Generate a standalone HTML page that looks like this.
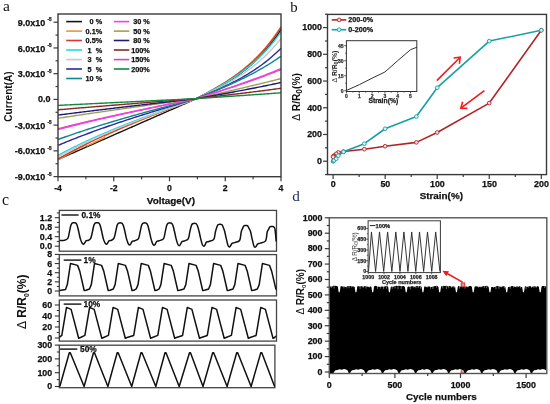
<!DOCTYPE html><html><head><meta charset="utf-8"><style>html,body{margin:0;padding:0;background:#fff;}svg{display:block;will-change:transform;}</style></head><body>
<svg width="550" height="404" viewBox="0 0 550 404">
<rect width="550" height="404" fill="#fff"/>
<path d="M58,159.5 L59.39,158.89 L60.79,158.27 L62.18,157.66 L63.58,157.04 L64.97,156.43 L66.36,155.81 L67.76,155.2 L69.15,154.58 L70.54,153.97 L71.94,153.36 L73.33,152.74 L74.73,152.13 L76.12,151.51 L77.51,150.9 L78.91,150.29 L80.3,149.67 L81.69,149.06 L83.09,148.44 L84.48,147.83 L85.88,147.22 L87.27,146.6 L88.66,145.99 L90.06,145.38 L91.45,144.76 L92.84,144.15 L94.24,143.54 L95.63,142.92 L97.02,142.31 L98.42,141.7 L99.81,141.08 L101.21,140.47 L102.6,139.86 L103.99,139.24 L105.39,138.63 L106.78,138.02 L108.17,137.41 L109.57,136.79 L110.96,136.18 L112.36,135.57 L113.75,134.95 L115.14,134.34 L116.54,133.73 L117.93,133.12 L119.33,132.5 L120.72,131.89 L122.11,131.28 L123.51,130.67 L124.9,130.05 L126.29,129.44 L127.69,128.83 L129.08,128.22 L130.47,127.6 L131.87,126.99 L133.26,126.38 L134.66,125.77 L136.05,125.15 L137.44,124.54 L138.84,123.93 L140.23,123.32 L141.62,122.71 L143.02,122.09 L144.41,121.48 L145.81,120.87 L147.2,120.26 L148.59,119.65 L149.99,119.03 L151.38,118.42 L152.78,117.81 L154.17,117.2 L155.56,116.59 L156.96,115.97 L158.35,115.36 L159.74,114.75 L161.14,114.14 L162.53,113.53 L163.92,112.91 L165.32,112.3 L166.71,111.69 L168.11,111.08 L169.5,110.47 L170.89,109.86 L172.29,109.24 L173.68,108.63 L175.08,108.02 L176.47,107.41 L177.86,106.8 L179.26,106.18 L180.65,105.57 L182.04,104.96 L183.44,104.35 L184.83,103.74 L186.22,103.13 L187.62,102.51 L189.01,101.9 L190.41,101.29 L191.8,100.68 L193.19,100.07 L194.59,99.46 L195.98,98.84 L197.38,98.19 L198.77,97.49 L200.16,96.8 L201.56,96.11 L202.95,95.41 L204.34,94.71 L205.74,94.01 L207.13,93.3 L208.53,92.59 L209.92,91.87 L211.31,91.15 L212.71,90.42 L214.1,89.68 L215.49,88.93 L216.89,88.18 L218.28,87.42 L219.68,86.64 L221.07,85.86 L222.46,85.06 L223.86,84.26 L225.25,83.43 L226.64,82.6 L228.04,81.75 L229.43,80.89 L230.82,80.01 L232.22,79.11 L233.61,78.2 L235.01,77.26 L236.4,76.31 L237.79,75.34 L239.19,74.35 L240.58,73.33 L241.97,72.29 L243.37,71.23 L244.76,70.15 L246.16,69.04 L247.55,67.9 L248.94,66.73 L250.34,65.54 L251.73,64.31 L253.12,63.06 L254.52,61.77 L255.91,60.45 L257.31,59.1 L258.7,57.71 L260.09,56.28 L261.49,54.82 L262.88,53.31 L264.27,51.77 L265.67,50.18 L267.06,48.55 L268.46,46.87 L269.85,45.15 L271.24,43.38 L272.64,41.56 L274.03,39.69 L275.43,37.76 L276.82,35.78 L278.21,33.75 L279.61,31.65 L281,29.5" fill="none" stroke="#151515" stroke-width="1.4" stroke-linejoin="round" />
<path d="M58,160 L59.39,159.19 L60.79,158.39 L62.18,157.6 L63.58,156.81 L64.97,156.03 L66.36,155.25 L67.76,154.48 L69.15,153.72 L70.54,152.96 L71.94,152.2 L73.33,151.46 L74.73,150.71 L76.12,149.97 L77.51,149.24 L78.91,148.51 L80.3,147.79 L81.69,147.07 L83.09,146.36 L84.48,145.65 L85.88,144.95 L87.27,145.85 L88.66,145.15 L90.06,144.46 L91.45,143.78 L92.84,143.1 L94.24,142.42 L95.63,141.75 L97.02,141.08 L98.42,140.41 L99.81,139.75 L101.21,139.09 L102.6,138.44 L103.99,137.79 L105.39,135.55 L106.78,134.91 L108.17,134.27 L109.57,133.63 L110.96,133 L112.36,132.38 L113.75,131.75 L115.14,131.13 L116.54,130.51 L117.93,129.9 L119.33,129.29 L120.72,128.68 L122.11,128.08 L123.51,127.47 L124.9,126.88 L126.29,126.28 L127.69,125.69 L129.08,125.09 L130.47,124.51 L131.87,123.92 L133.26,123.34 L134.66,122.76 L136.05,122.18 L137.44,121.6 L138.84,121.03 L140.23,120.46 L141.62,119.89 L143.02,119.32 L144.41,118.76 L145.81,118.19 L147.2,117.63 L148.59,117.07 L149.99,116.52 L151.38,115.96 L152.78,115.41 L154.17,114.86 L155.56,114.31 L156.96,113.76 L158.35,113.21 L159.74,112.66 L161.14,112.12 L162.53,111.58 L163.92,111.04 L165.32,110.49 L166.71,109.96 L168.11,109.42 L169.5,108.88 L170.89,108.34 L172.29,107.81 L173.68,107.28 L175.08,106.74 L176.47,106.21 L177.86,105.68 L179.26,105.15 L180.65,104.62 L182.04,104.09 L183.44,103.56 L184.83,103.03 L186.22,102.5 L187.62,101.97 L189.01,101.45 L190.41,100.92 L191.8,100.39 L193.19,99.86 L194.59,99.34 L195.98,98.81 L197.38,98.15 L198.77,97.39 L200.16,96.64 L201.56,95.88 L202.95,95.12 L204.34,94.36 L205.74,93.59 L207.13,92.82 L208.53,92.05 L209.92,91.27 L211.31,90.48 L212.71,89.69 L214.1,88.89 L215.49,88.08 L216.89,87.26 L218.28,86.44 L219.68,85.6 L221.07,84.76 L222.46,83.9 L223.86,83.03 L225.25,82.15 L226.64,81.25 L228.04,80.34 L229.43,79.42 L230.82,78.48 L232.22,77.52 L233.61,76.55 L235.01,75.56 L236.4,74.55 L237.79,73.52 L239.19,72.47 L240.58,71.4 L241.97,70.31 L243.37,69.19 L244.76,68.05 L246.16,66.89 L247.55,65.7 L248.94,64.48 L250.34,63.23 L251.73,61.96 L253.12,60.66 L254.52,59.32 L255.91,57.96 L257.31,56.56 L258.7,55.12 L260.09,53.66 L261.49,52.15 L262.88,50.61 L264.27,49.03 L265.67,47.4 L267.06,45.74 L268.46,44.03 L269.85,42.28 L271.24,40.49 L272.64,38.64 L274.03,36.75 L275.43,34.81 L276.82,32.81 L278.21,30.76 L279.61,28.66 L281,26.5" fill="none" stroke="#e8963e" stroke-width="1.4" stroke-linejoin="round" />
<path d="M58,159 L59.39,158.21 L60.79,157.42 L62.18,156.64 L63.58,155.86 L64.97,155.1 L66.36,154.33 L67.76,153.57 L69.15,152.82 L70.54,152.07 L71.94,151.33 L73.33,150.6 L74.73,149.86 L76.12,149.14 L77.51,148.42 L78.91,147.7 L80.3,146.99 L81.69,146.28 L83.09,145.58 L84.48,144.88 L85.88,144.19 L87.27,143.5 L88.66,142.82 L90.06,142.14 L91.45,141.47 L92.84,140.8 L94.24,140.13 L95.63,139.47 L97.02,138.81 L98.42,138.16 L99.81,137.51 L101.21,136.86 L102.6,136.22 L103.99,135.58 L105.39,134.95 L106.78,134.32 L108.17,133.69 L109.57,133.06 L110.96,132.44 L112.36,131.83 L113.75,131.21 L115.14,130.6 L116.54,129.99 L117.93,129.39 L119.33,128.79 L120.72,128.19 L122.11,127.6 L123.51,127 L124.9,126.41 L126.29,125.83 L127.69,125.24 L129.08,124.66 L130.47,124.08 L131.87,123.51 L133.26,122.93 L134.66,122.36 L136.05,121.79 L137.44,121.23 L138.84,120.66 L140.23,120.1 L141.62,119.54 L143.02,118.98 L144.41,118.43 L145.81,117.88 L147.2,117.32 L148.59,116.77 L149.99,116.23 L151.38,115.68 L152.78,115.13 L154.17,114.59 L155.56,114.05 L156.96,113.51 L158.35,112.97 L159.74,112.44 L161.14,111.9 L162.53,111.37 L163.92,110.83 L165.32,110.3 L166.71,109.77 L168.11,109.24 L169.5,108.71 L170.89,108.19 L172.29,107.66 L173.68,107.13 L175.08,106.61 L176.47,106.09 L177.86,105.56 L179.26,105.04 L180.65,104.52 L182.04,104 L183.44,103.48 L184.83,102.96 L186.22,102.44 L187.62,101.92 L189.01,101.4 L190.41,100.88 L191.8,100.36 L193.19,99.84 L194.59,99.33 L195.98,98.81 L197.38,98.15 L198.77,97.41 L200.16,96.66 L201.56,95.92 L202.95,95.17 L204.34,94.42 L205.74,93.66 L207.13,92.9 L208.53,92.14 L209.92,91.37 L211.31,90.59 L212.71,89.81 L214.1,89.02 L215.49,88.23 L216.89,87.42 L218.28,86.61 L219.68,85.78 L221.07,84.95 L222.46,84.1 L223.86,83.25 L225.25,82.38 L226.64,81.49 L228.04,80.6 L229.43,79.69 L230.82,78.76 L232.22,77.82 L233.61,76.86 L235.01,75.88 L236.4,74.88 L237.79,73.87 L239.19,72.83 L240.58,71.78 L241.97,70.7 L243.37,69.6 L244.76,68.47 L246.16,67.33 L247.55,66.15 L248.94,64.95 L250.34,63.72 L251.73,62.47 L253.12,61.18 L254.52,59.87 L255.91,58.52 L257.31,57.14 L258.7,55.73 L260.09,54.28 L261.49,52.79 L262.88,51.27 L264.27,49.71 L265.67,48.11 L267.06,46.47 L268.46,44.79 L269.85,43.06 L271.24,41.29 L272.64,39.47 L274.03,37.61 L275.43,35.69 L276.82,33.72 L278.21,31.7 L279.61,29.63 L281,27.5" fill="none" stroke="#d83a30" stroke-width="1.4" stroke-linejoin="round" />
<path d="M58,155.3 L59.39,154.56 L60.79,153.82 L62.18,153.08 L63.58,152.36 L64.97,151.63 L66.36,150.92 L67.76,150.21 L69.15,149.5 L70.54,148.8 L71.94,148.1 L73.33,147.41 L74.73,146.72 L76.12,146.04 L77.51,145.36 L78.91,144.69 L80.3,144.02 L81.69,143.36 L83.09,142.7 L84.48,142.05 L85.88,141.4 L87.27,140.75 L88.66,140.11 L90.06,139.47 L91.45,138.84 L92.84,138.21 L94.24,137.59 L95.63,136.97 L97.02,136.35 L98.42,135.73 L99.81,135.12 L101.21,134.52 L102.6,133.91 L103.99,133.32 L105.39,132.72 L106.78,132.13 L108.17,131.54 L109.57,130.95 L110.96,130.37 L112.36,129.79 L113.75,129.21 L115.14,128.64 L116.54,128.07 L117.93,127.5 L119.33,126.94 L120.72,126.38 L122.11,125.82 L123.51,125.26 L124.9,124.71 L126.29,124.16 L127.69,123.61 L129.08,123.07 L130.47,122.52 L131.87,121.98 L133.26,121.44 L134.66,120.91 L136.05,120.37 L137.44,119.84 L138.84,119.31 L140.23,118.79 L141.62,118.26 L143.02,117.74 L144.41,117.21 L145.81,116.69 L147.2,116.18 L148.59,115.66 L149.99,115.15 L151.38,114.63 L152.78,114.12 L154.17,113.61 L155.56,113.1 L156.96,112.6 L158.35,112.09 L159.74,111.59 L161.14,111.09 L162.53,110.58 L163.92,110.08 L165.32,109.58 L166.71,109.09 L168.11,108.59 L169.5,108.09 L170.89,107.6 L172.29,107.1 L173.68,106.61 L175.08,106.12 L176.47,105.63 L177.86,105.14 L179.26,104.65 L180.65,104.16 L182.04,103.67 L183.44,103.18 L184.83,102.69 L186.22,102.2 L187.62,101.71 L189.01,101.23 L190.41,100.74 L191.8,100.25 L193.19,99.77 L194.59,99.28 L195.98,98.79 L197.38,98.17 L198.77,97.45 L200.16,96.73 L201.56,96.01 L202.95,95.29 L204.34,94.57 L205.74,93.84 L207.13,93.11 L208.53,92.37 L209.92,91.63 L211.31,90.89 L212.71,90.13 L214.1,89.38 L215.49,88.61 L216.89,87.84 L218.28,87.06 L219.68,86.27 L221.07,85.47 L222.46,84.66 L223.86,83.84 L225.25,83.01 L226.64,82.17 L228.04,81.32 L229.43,80.45 L230.82,79.57 L232.22,78.67 L233.61,77.76 L235.01,76.84 L236.4,75.9 L237.79,74.94 L239.19,73.96 L240.58,72.96 L241.97,71.95 L243.37,70.91 L244.76,69.85 L246.16,68.77 L247.55,67.67 L248.94,66.55 L250.34,65.4 L251.73,64.22 L253.12,63.03 L254.52,61.8 L255.91,60.54 L257.31,59.26 L258.7,57.95 L260.09,56.6 L261.49,55.23 L262.88,53.82 L264.27,52.38 L265.67,50.9 L267.06,49.39 L268.46,47.83 L269.85,46.25 L271.24,44.62 L272.64,42.95 L274.03,41.24 L275.43,39.48 L276.82,37.68 L278.21,35.84 L279.61,33.94 L281,32" fill="none" stroke="#18dde8" stroke-width="1.4" stroke-linejoin="round" />
<path d="M58,157 L59.39,156.23 L60.79,155.47 L62.18,154.72 L63.58,153.97 L64.97,153.22 L66.36,152.49 L67.76,151.75 L69.15,151.03 L70.54,150.3 L71.94,149.59 L73.33,148.87 L74.73,148.17 L76.12,147.46 L77.51,146.77 L78.91,146.07 L80.3,145.39 L81.69,144.7 L83.09,144.03 L84.48,143.35 L85.88,142.68 L87.27,142.02 L88.66,141.36 L90.06,140.7 L91.45,140.05 L92.84,139.4 L94.24,138.76 L95.63,138.12 L97.02,137.48 L98.42,136.85 L99.81,136.22 L101.21,135.59 L102.6,134.97 L103.99,134.36 L105.39,133.74 L106.78,133.13 L108.17,132.53 L109.57,131.92 L110.96,131.32 L112.36,130.73 L113.75,130.13 L115.14,129.54 L116.54,128.96 L117.93,128.37 L119.33,127.79 L120.72,127.21 L122.11,126.64 L123.51,126.06 L124.9,125.49 L126.29,124.93 L127.69,124.36 L129.08,123.8 L130.47,123.24 L131.87,122.68 L133.26,122.13 L134.66,121.58 L136.05,121.03 L137.44,120.48 L138.84,119.93 L140.23,119.39 L141.62,118.85 L143.02,118.31 L144.41,117.77 L145.81,117.24 L147.2,116.7 L148.59,116.17 L149.99,115.64 L151.38,115.11 L152.78,114.59 L154.17,114.06 L155.56,113.54 L156.96,113.02 L158.35,112.5 L159.74,111.98 L161.14,111.46 L162.53,110.94 L163.92,110.43 L165.32,109.91 L166.71,109.4 L168.11,108.89 L169.5,108.38 L170.89,107.87 L172.29,107.36 L173.68,106.85 L175.08,106.34 L176.47,105.84 L177.86,105.33 L179.26,104.83 L180.65,104.32 L182.04,103.82 L183.44,103.32 L184.83,102.81 L186.22,102.31 L187.62,101.81 L189.01,101.31 L190.41,100.8 L191.8,100.3 L193.19,99.8 L194.59,99.3 L195.98,98.8 L197.38,98.21 L198.77,97.56 L200.16,96.91 L201.56,96.27 L202.95,95.61 L204.34,94.96 L205.74,94.3 L207.13,93.64 L208.53,92.98 L209.92,92.31 L211.31,91.64 L212.71,90.96 L214.1,90.28 L215.49,89.59 L216.89,88.89 L218.28,88.19 L219.68,87.47 L221.07,86.75 L222.46,86.02 L223.86,85.28 L225.25,84.54 L226.64,83.78 L228.04,83.01 L229.43,82.22 L230.82,81.43 L232.22,80.62 L233.61,79.8 L235.01,78.96 L236.4,78.11 L237.79,77.24 L239.19,76.36 L240.58,75.46 L241.97,74.55 L243.37,73.61 L244.76,72.66 L246.16,71.68 L247.55,70.69 L248.94,69.68 L250.34,68.64 L251.73,67.58 L253.12,66.5 L254.52,65.39 L255.91,64.26 L257.31,63.1 L258.7,61.91 L260.09,60.7 L261.49,59.46 L262.88,58.19 L264.27,56.89 L265.67,55.55 L267.06,54.19 L268.46,52.79 L269.85,51.36 L271.24,49.89 L272.64,48.38 L274.03,46.83 L275.43,45.25 L276.82,43.63 L278.21,41.96 L279.61,40.25 L281,38.5" fill="none" stroke="#c8c8c8" stroke-width="1.4" stroke-linejoin="round" />
<path d="M58,145.4 L59.39,144.81 L60.79,144.23 L62.18,143.65 L63.58,143.07 L64.97,142.5 L66.36,141.93 L67.76,141.36 L69.15,140.8 L70.54,140.24 L71.94,139.68 L73.33,139.13 L74.73,138.58 L76.12,138.03 L77.51,137.49 L78.91,136.95 L80.3,136.41 L81.69,135.88 L83.09,135.35 L84.48,134.82 L85.88,134.29 L87.27,133.77 L88.66,133.25 L90.06,132.73 L91.45,132.22 L92.84,131.71 L94.24,131.2 L95.63,130.7 L97.02,130.19 L98.42,129.69 L99.81,129.19 L101.21,128.7 L102.6,128.21 L103.99,127.72 L105.39,127.23 L106.78,126.74 L108.17,126.26 L109.57,125.78 L110.96,125.3 L112.36,124.82 L113.75,124.34 L115.14,123.87 L116.54,123.4 L117.93,122.93 L119.33,122.46 L120.72,122 L122.11,121.54 L123.51,121.08 L124.9,120.62 L126.29,120.16 L127.69,119.7 L129.08,119.25 L130.47,118.8 L131.87,118.35 L133.26,117.9 L134.66,117.45 L136.05,117 L137.44,116.56 L138.84,116.11 L140.23,115.67 L141.62,115.23 L143.02,114.79 L144.41,114.36 L145.81,113.92 L147.2,113.48 L148.59,113.05 L149.99,112.62 L151.38,112.19 L152.78,111.76 L154.17,111.33 L155.56,110.9 L156.96,110.47 L158.35,110.04 L159.74,109.62 L161.14,109.19 L162.53,108.77 L163.92,108.35 L165.32,107.92 L166.71,107.5 L168.11,107.08 L169.5,106.66 L170.89,106.24 L172.29,105.82 L173.68,105.4 L175.08,104.99 L176.47,104.57 L177.86,104.15 L179.26,103.74 L180.65,103.32 L182.04,102.91 L183.44,102.49 L184.83,102.08 L186.22,101.66 L187.62,101.25 L189.01,100.83 L190.41,100.42 L191.8,100.01 L193.19,99.59 L194.59,99.18 L195.98,98.77 L197.38,98.25 L198.77,97.67 L200.16,97.09 L201.56,96.51 L202.95,95.92 L204.34,95.34 L205.74,94.75 L207.13,94.16 L208.53,93.57 L209.92,92.97 L211.31,92.37 L212.71,91.77 L214.1,91.16 L215.49,90.55 L216.89,89.93 L218.28,89.31 L219.68,88.68 L221.07,88.04 L222.46,87.4 L223.86,86.75 L225.25,86.1 L226.64,85.43 L228.04,84.76 L229.43,84.08 L230.82,83.39 L232.22,82.69 L233.61,81.98 L235.01,81.26 L236.4,80.53 L237.79,79.79 L239.19,79.04 L240.58,78.27 L241.97,77.5 L243.37,76.7 L244.76,75.9 L246.16,75.08 L247.55,74.25 L248.94,73.4 L250.34,72.53 L251.73,71.65 L253.12,70.75 L254.52,69.84 L255.91,68.9 L257.31,67.95 L258.7,66.98 L260.09,65.99 L261.49,64.98 L262.88,63.95 L264.27,62.89 L265.67,61.82 L267.06,60.72 L268.46,59.59 L269.85,58.45 L271.24,57.27 L272.64,56.08 L274.03,54.85 L275.43,53.6 L276.82,52.32 L278.21,51.01 L279.61,49.67 L281,48.3" fill="none" stroke="#2a2aa0" stroke-width="1.4" stroke-linejoin="round" />
<path d="M58,139.5 L59.39,139 L60.79,138.5 L62.18,138 L63.58,137.5 L64.97,137.01 L66.36,136.52 L67.76,136.04 L69.15,135.55 L70.54,135.07 L71.94,134.59 L73.33,134.12 L74.73,133.64 L76.12,133.17 L77.51,132.7 L78.91,132.24 L80.3,131.77 L81.69,131.31 L83.09,130.85 L84.48,130.4 L85.88,129.94 L87.27,129.49 L88.66,129.04 L90.06,128.59 L91.45,128.15 L92.84,127.71 L94.24,127.27 L95.63,126.83 L97.02,126.39 L98.42,125.95 L99.81,125.52 L101.21,125.09 L102.6,124.66 L103.99,124.23 L105.39,123.81 L106.78,123.39 L108.17,122.96 L109.57,122.54 L110.96,122.13 L112.36,121.71 L113.75,121.29 L115.14,120.88 L116.54,120.47 L117.93,120.06 L119.33,119.65 L120.72,119.24 L122.11,118.84 L123.51,118.44 L124.9,118.03 L126.29,117.63 L127.69,117.23 L129.08,116.83 L130.47,116.44 L131.87,116.04 L133.26,115.65 L134.66,115.25 L136.05,114.86 L137.44,114.47 L138.84,114.08 L140.23,113.69 L141.62,113.3 L143.02,112.92 L144.41,112.53 L145.81,112.15 L147.2,111.76 L148.59,111.38 L149.99,111 L151.38,110.62 L152.78,110.24 L154.17,109.86 L155.56,109.48 L156.96,109.1 L158.35,108.73 L159.74,108.35 L161.14,107.98 L162.53,107.6 L163.92,107.23 L165.32,106.85 L166.71,106.48 L168.11,106.11 L169.5,105.74 L170.89,105.37 L172.29,105 L173.68,104.63 L175.08,104.26 L176.47,103.89 L177.86,103.52 L179.26,103.15 L180.65,102.78 L182.04,102.41 L183.44,102.05 L184.83,101.68 L186.22,101.31 L187.62,100.95 L189.01,100.58 L190.41,100.21 L191.8,99.85 L193.19,99.48 L194.59,99.11 L195.98,98.75 L197.38,98.26 L198.77,97.69 L200.16,97.13 L201.56,96.56 L202.95,95.99 L204.34,95.42 L205.74,94.85 L207.13,94.28 L208.53,93.71 L209.92,93.14 L211.31,92.56 L212.71,91.98 L214.1,91.4 L215.49,90.82 L216.89,90.23 L218.28,89.64 L219.68,89.05 L221.07,88.45 L222.46,87.85 L223.86,87.25 L225.25,86.64 L226.64,86.03 L228.04,85.41 L229.43,84.79 L230.82,84.16 L232.22,83.53 L233.61,82.89 L235.01,82.25 L236.4,81.6 L237.79,80.95 L239.19,80.29 L240.58,79.62 L241.97,78.94 L243.37,78.26 L244.76,77.57 L246.16,76.88 L247.55,76.17 L248.94,75.46 L250.34,74.74 L251.73,74.01 L253.12,73.27 L254.52,72.52 L255.91,71.77 L257.31,71 L258.7,70.22 L260.09,69.44 L261.49,68.64 L262.88,67.83 L264.27,67.01 L265.67,66.18 L267.06,65.34 L268.46,64.48 L269.85,63.62 L271.24,62.74 L272.64,61.84 L274.03,60.94 L275.43,60.02 L276.82,59.09 L278.21,58.14 L279.61,57.18 L281,56.2" fill="none" stroke="#10878a" stroke-width="1.4" stroke-linejoin="round" />
<path d="M58,128.8 L59.39,128.44 L60.79,128.09 L62.18,127.73 L63.58,127.38 L64.97,127.03 L66.36,126.68 L67.76,126.33 L69.15,125.99 L70.54,125.64 L71.94,125.3 L73.33,124.96 L74.73,124.62 L76.12,124.28 L77.51,123.94 L78.91,123.61 L80.3,123.27 L81.69,122.94 L83.09,122.61 L84.48,122.28 L85.88,121.95 L87.27,121.62 L88.66,121.3 L90.06,120.97 L91.45,120.65 L92.84,120.33 L94.24,120.01 L95.63,119.69 L97.02,119.37 L98.42,119.05 L99.81,118.73 L101.21,118.42 L102.6,118.1 L103.99,117.79 L105.39,117.48 L106.78,117.17 L108.17,116.86 L109.57,116.55 L110.96,116.24 L112.36,115.93 L113.75,115.63 L115.14,115.32 L116.54,115.02 L117.93,114.72 L119.33,114.41 L120.72,114.11 L122.11,113.81 L123.51,113.51 L124.9,113.21 L126.29,112.92 L127.69,112.62 L129.08,112.32 L130.47,112.03 L131.87,111.73 L133.26,111.44 L134.66,111.15 L136.05,110.85 L137.44,110.56 L138.84,110.27 L140.23,109.98 L141.62,109.69 L143.02,109.4 L144.41,109.11 L145.81,108.82 L147.2,108.54 L148.59,108.25 L149.99,107.96 L151.38,107.68 L152.78,107.39 L154.17,107.11 L155.56,106.82 L156.96,106.54 L158.35,106.25 L159.74,105.97 L161.14,105.69 L162.53,105.41 L163.92,105.12 L165.32,104.84 L166.71,104.56 L168.11,104.28 L169.5,104 L170.89,103.72 L172.29,103.44 L173.68,103.16 L175.08,102.88 L176.47,102.6 L177.86,102.32 L179.26,102.04 L180.65,101.77 L182.04,101.49 L183.44,101.21 L184.83,100.93 L186.22,100.65 L187.62,100.38 L189.01,100.1 L190.41,99.82 L191.8,99.54 L193.19,99.27 L194.59,98.99 L195.98,98.71 L197.38,98.34 L198.77,97.9 L200.16,97.46 L201.56,97.03 L202.95,96.59 L204.34,96.15 L205.74,95.71 L207.13,95.27 L208.53,94.83 L209.92,94.39 L211.31,93.95 L212.71,93.51 L214.1,93.07 L215.49,92.63 L216.89,92.18 L218.28,91.74 L219.68,91.29 L221.07,90.84 L222.46,90.4 L223.86,89.95 L225.25,89.49 L226.64,89.04 L228.04,88.59 L229.43,88.13 L230.82,87.68 L232.22,87.22 L233.61,86.76 L235.01,86.29 L236.4,85.83 L237.79,85.36 L239.19,84.89 L240.58,84.42 L241.97,83.95 L243.37,83.48 L244.76,83 L246.16,82.52 L247.55,82.04 L248.94,81.55 L250.34,81.06 L251.73,80.57 L253.12,80.08 L254.52,79.58 L255.91,79.08 L257.31,78.58 L258.7,78.08 L260.09,77.57 L261.49,77.06 L262.88,76.54 L264.27,76.02 L265.67,75.5 L267.06,74.97 L268.46,74.44 L269.85,73.91 L271.24,73.37 L272.64,72.83 L274.03,72.29 L275.43,71.74 L276.82,71.19 L278.21,70.63 L279.61,70.07 L281,69.5" fill="none" stroke="#e048a0" stroke-width="1.4" stroke-linejoin="round" />
<path d="M58,129.6 L59.39,129.23 L60.79,128.87 L62.18,128.5 L63.58,128.14 L64.97,127.78 L66.36,127.42 L67.76,127.07 L69.15,126.71 L70.54,126.36 L71.94,126.01 L73.33,125.66 L74.73,125.31 L76.12,124.96 L77.51,124.61 L78.91,124.27 L80.3,123.93 L81.69,123.59 L83.09,123.25 L84.48,122.91 L85.88,122.57 L87.27,122.23 L88.66,121.9 L90.06,121.57 L91.45,121.23 L92.84,120.9 L94.24,120.57 L95.63,120.24 L97.02,119.92 L98.42,119.59 L99.81,119.27 L101.21,118.94 L102.6,118.62 L103.99,118.3 L105.39,117.98 L106.78,117.66 L108.17,117.34 L109.57,117.02 L110.96,116.71 L112.36,116.39 L113.75,116.08 L115.14,115.77 L116.54,115.45 L117.93,115.14 L119.33,114.83 L120.72,114.52 L122.11,114.22 L123.51,113.91 L124.9,113.6 L126.29,113.3 L127.69,112.99 L129.08,112.69 L130.47,112.38 L131.87,112.08 L133.26,111.78 L134.66,111.48 L136.05,111.18 L137.44,110.88 L138.84,110.58 L140.23,110.28 L141.62,109.98 L143.02,109.69 L144.41,109.39 L145.81,109.09 L147.2,108.8 L148.59,108.5 L149.99,108.21 L151.38,107.92 L152.78,107.62 L154.17,107.33 L155.56,107.04 L156.96,106.75 L158.35,106.46 L159.74,106.17 L161.14,105.88 L162.53,105.59 L163.92,105.3 L165.32,105.01 L166.71,104.72 L168.11,104.43 L169.5,104.14 L170.89,103.86 L172.29,103.57 L173.68,103.28 L175.08,102.99 L176.47,102.71 L177.86,102.42 L179.26,102.14 L180.65,101.85 L182.04,101.56 L183.44,101.28 L184.83,100.99 L186.22,100.71 L187.62,100.42 L189.01,100.14 L190.41,99.85 L191.8,99.57 L193.19,99.28 L194.59,99 L195.98,98.71 L197.38,98.33 L198.77,97.88 L200.16,97.43 L201.56,96.98 L202.95,96.53 L204.34,96.07 L205.74,95.62 L207.13,95.17 L208.53,94.72 L209.92,94.26 L211.31,93.81 L212.71,93.35 L214.1,92.9 L215.49,92.44 L216.89,91.98 L218.28,91.52 L219.68,91.06 L221.07,90.6 L222.46,90.14 L223.86,89.68 L225.25,89.21 L226.64,88.75 L228.04,88.28 L229.43,87.81 L230.82,87.34 L232.22,86.86 L233.61,86.39 L235.01,85.91 L236.4,85.43 L237.79,84.95 L239.19,84.47 L240.58,83.98 L241.97,83.5 L243.37,83.01 L244.76,82.52 L246.16,82.02 L247.55,81.52 L248.94,81.02 L250.34,80.52 L251.73,80.01 L253.12,79.51 L254.52,78.99 L255.91,78.48 L257.31,77.96 L258.7,77.44 L260.09,76.92 L261.49,76.39 L262.88,75.86 L264.27,75.32 L265.67,74.79 L267.06,74.24 L268.46,73.7 L269.85,73.15 L271.24,72.59 L272.64,72.04 L274.03,71.47 L275.43,70.91 L276.82,70.34 L278.21,69.76 L279.61,69.18 L281,68.6" fill="none" stroke="#f040e8" stroke-width="1.4" stroke-linejoin="round" />
<path d="M58,118.3 L59.39,118.09 L60.79,117.87 L62.18,117.66 L63.58,117.45 L64.97,117.23 L66.36,117.02 L67.76,116.81 L69.15,116.6 L70.54,116.39 L71.94,116.18 L73.33,115.97 L74.73,115.76 L76.12,115.55 L77.51,115.35 L78.91,115.14 L80.3,114.93 L81.69,114.72 L83.09,114.52 L84.48,114.31 L85.88,114.11 L87.27,113.9 L88.66,113.7 L90.06,113.49 L91.45,113.29 L92.84,113.08 L94.24,112.88 L95.63,112.68 L97.02,112.47 L98.42,112.27 L99.81,112.07 L101.21,111.87 L102.6,111.67 L103.99,111.47 L105.39,111.27 L106.78,111.07 L108.17,110.87 L109.57,110.67 L110.96,110.47 L112.36,110.27 L113.75,110.07 L115.14,109.87 L116.54,109.67 L117.93,109.47 L119.33,109.28 L120.72,109.08 L122.11,108.88 L123.51,108.68 L124.9,108.49 L126.29,108.29 L127.69,108.09 L129.08,107.9 L130.47,107.7 L131.87,107.51 L133.26,107.31 L134.66,107.12 L136.05,106.92 L137.44,106.73 L138.84,106.53 L140.23,106.34 L141.62,106.14 L143.02,105.95 L144.41,105.76 L145.81,105.56 L147.2,105.37 L148.59,105.18 L149.99,104.98 L151.38,104.79 L152.78,104.6 L154.17,104.41 L155.56,104.21 L156.96,104.02 L158.35,103.83 L159.74,103.64 L161.14,103.45 L162.53,103.25 L163.92,103.06 L165.32,102.87 L166.71,102.68 L168.11,102.49 L169.5,102.3 L170.89,102.11 L172.29,101.91 L173.68,101.72 L175.08,101.53 L176.47,101.34 L177.86,101.15 L179.26,100.96 L180.65,100.77 L182.04,100.58 L183.44,100.39 L184.83,100.2 L186.22,100.01 L187.62,99.82 L189.01,99.63 L190.41,99.44 L191.8,99.25 L193.19,99.06 L194.59,98.87 L195.98,98.68 L197.38,98.41 L198.77,98.09 L200.16,97.77 L201.56,97.45 L202.95,97.13 L204.34,96.81 L205.74,96.49 L207.13,96.17 L208.53,95.86 L209.92,95.54 L211.31,95.22 L212.71,94.9 L214.1,94.58 L215.49,94.25 L216.89,93.93 L218.28,93.61 L219.68,93.29 L221.07,92.97 L222.46,92.65 L223.86,92.33 L225.25,92 L226.64,91.68 L228.04,91.36 L229.43,91.03 L230.82,90.71 L232.22,90.38 L233.61,90.06 L235.01,89.73 L236.4,89.41 L237.79,89.08 L239.19,88.75 L240.58,88.43 L241.97,88.1 L243.37,87.77 L244.76,87.44 L246.16,87.11 L247.55,86.78 L248.94,86.45 L250.34,86.12 L251.73,85.78 L253.12,85.45 L254.52,85.12 L255.91,84.78 L257.31,84.45 L258.7,84.11 L260.09,83.77 L261.49,83.43 L262.88,83.09 L264.27,82.75 L265.67,82.41 L267.06,82.07 L268.46,81.73 L269.85,81.39 L271.24,81.04 L272.64,80.7 L274.03,80.35 L275.43,80 L276.82,79.65 L278.21,79.3 L279.61,78.95 L281,78.6" fill="none" stroke="#a0a055" stroke-width="1.4" stroke-linejoin="round" />
<path d="M58,115.1 L59.39,114.92 L60.79,114.74 L62.18,114.56 L63.58,114.39 L64.97,114.21 L66.36,114.03 L67.76,113.85 L69.15,113.68 L70.54,113.5 L71.94,113.33 L73.33,113.15 L74.73,112.98 L76.12,112.8 L77.51,112.63 L78.91,112.45 L80.3,112.28 L81.69,112.11 L83.09,111.93 L84.48,111.76 L85.88,111.59 L87.27,111.42 L88.66,111.24 L90.06,111.07 L91.45,110.9 L92.84,110.73 L94.24,110.56 L95.63,110.39 L97.02,110.22 L98.42,110.05 L99.81,109.88 L101.21,109.71 L102.6,109.54 L103.99,109.38 L105.39,109.21 L106.78,109.04 L108.17,108.87 L109.57,108.71 L110.96,108.54 L112.36,108.37 L113.75,108.21 L115.14,108.04 L116.54,107.87 L117.93,107.71 L119.33,107.54 L120.72,107.38 L122.11,107.21 L123.51,107.05 L124.9,106.88 L126.29,106.72 L127.69,106.55 L129.08,106.39 L130.47,106.22 L131.87,106.06 L133.26,105.9 L134.66,105.73 L136.05,105.57 L137.44,105.41 L138.84,105.24 L140.23,105.08 L141.62,104.92 L143.02,104.76 L144.41,104.59 L145.81,104.43 L147.2,104.27 L148.59,104.11 L149.99,103.95 L151.38,103.79 L152.78,103.62 L154.17,103.46 L155.56,103.3 L156.96,103.14 L158.35,102.98 L159.74,102.82 L161.14,102.66 L162.53,102.5 L163.92,102.34 L165.32,102.18 L166.71,102.02 L168.11,101.86 L169.5,101.7 L170.89,101.54 L172.29,101.38 L173.68,101.22 L175.08,101.06 L176.47,100.9 L177.86,100.74 L179.26,100.58 L180.65,100.42 L182.04,100.26 L183.44,100.1 L184.83,99.94 L186.22,99.78 L187.62,99.62 L189.01,99.46 L190.41,99.3 L191.8,99.14 L193.19,98.98 L194.59,98.82 L195.98,98.66 L197.38,98.45 L198.77,98.2 L200.16,97.96 L201.56,97.71 L202.95,97.46 L204.34,97.22 L205.74,96.97 L207.13,96.72 L208.53,96.47 L209.92,96.22 L211.31,95.98 L212.71,95.73 L214.1,95.48 L215.49,95.23 L216.89,94.98 L218.28,94.73 L219.68,94.48 L221.07,94.23 L222.46,93.97 L223.86,93.72 L225.25,93.47 L226.64,93.22 L228.04,92.96 L229.43,92.71 L230.82,92.45 L232.22,92.19 L233.61,91.94 L235.01,91.68 L236.4,91.42 L237.79,91.16 L239.19,90.9 L240.58,90.64 L241.97,90.37 L243.37,90.11 L244.76,89.85 L246.16,89.58 L247.55,89.31 L248.94,89.05 L250.34,88.78 L251.73,88.51 L253.12,88.24 L254.52,87.96 L255.91,87.69 L257.31,87.41 L258.7,87.14 L260.09,86.86 L261.49,86.58 L262.88,86.3 L264.27,86.02 L265.67,85.73 L267.06,85.45 L268.46,85.16 L269.85,84.87 L271.24,84.58 L272.64,84.29 L274.03,84 L275.43,83.7 L276.82,83.4 L278.21,83.1 L279.61,82.8 L281,82.5" fill="none" stroke="#1c1c78" stroke-width="1.4" stroke-linejoin="round" />
<path d="M58,109.8 L59.39,109.68 L60.79,109.56 L62.18,109.45 L63.58,109.33 L64.97,109.21 L66.36,109.09 L67.76,108.97 L69.15,108.86 L70.54,108.74 L71.94,108.62 L73.33,108.51 L74.73,108.39 L76.12,108.27 L77.51,108.16 L78.91,108.04 L80.3,107.92 L81.69,107.81 L83.09,107.69 L84.48,107.58 L85.88,107.46 L87.27,107.35 L88.66,107.23 L90.06,107.12 L91.45,107 L92.84,106.89 L94.24,106.77 L95.63,106.66 L97.02,106.54 L98.42,106.43 L99.81,106.32 L101.21,106.2 L102.6,106.09 L103.99,105.97 L105.39,105.86 L106.78,105.75 L108.17,105.63 L109.57,105.52 L110.96,105.41 L112.36,105.29 L113.75,105.18 L115.14,105.07 L116.54,104.96 L117.93,104.84 L119.33,104.73 L120.72,104.62 L122.11,104.51 L123.51,104.39 L124.9,104.28 L126.29,104.17 L127.69,104.06 L129.08,103.95 L130.47,103.83 L131.87,103.72 L133.26,103.61 L134.66,103.5 L136.05,103.39 L137.44,103.28 L138.84,103.16 L140.23,103.05 L141.62,102.94 L143.02,102.83 L144.41,102.72 L145.81,102.61 L147.2,102.5 L148.59,102.39 L149.99,102.28 L151.38,102.17 L152.78,102.06 L154.17,101.94 L155.56,101.83 L156.96,101.72 L158.35,101.61 L159.74,101.5 L161.14,101.39 L162.53,101.28 L163.92,101.17 L165.32,101.06 L166.71,100.95 L168.11,100.84 L169.5,100.73 L170.89,100.62 L172.29,100.51 L173.68,100.4 L175.08,100.29 L176.47,100.18 L177.86,100.07 L179.26,99.96 L180.65,99.85 L182.04,99.74 L183.44,99.63 L184.83,99.52 L186.22,99.41 L187.62,99.3 L189.01,99.19 L190.41,99.08 L191.8,98.97 L193.19,98.86 L194.59,98.75 L195.98,98.64 L197.38,98.5 L198.77,98.34 L200.16,98.18 L201.56,98.02 L202.95,97.86 L204.34,97.7 L205.74,97.54 L207.13,97.38 L208.53,97.22 L209.92,97.06 L211.31,96.9 L212.71,96.74 L214.1,96.58 L215.49,96.42 L216.89,96.26 L218.28,96.09 L219.68,95.93 L221.07,95.77 L222.46,95.61 L223.86,95.44 L225.25,95.28 L226.64,95.12 L228.04,94.95 L229.43,94.79 L230.82,94.62 L232.22,94.46 L233.61,94.29 L235.01,94.13 L236.4,93.96 L237.79,93.79 L239.19,93.63 L240.58,93.46 L241.97,93.29 L243.37,93.12 L244.76,92.95 L246.16,92.78 L247.55,92.61 L248.94,92.44 L250.34,92.27 L251.73,92.1 L253.12,91.92 L254.52,91.75 L255.91,91.58 L257.31,91.4 L258.7,91.23 L260.09,91.05 L261.49,90.87 L262.88,90.69 L264.27,90.51 L265.67,90.33 L267.06,90.15 L268.46,89.97 L269.85,89.79 L271.24,89.61 L272.64,89.42 L274.03,89.24 L275.43,89.05 L276.82,88.87 L278.21,88.68 L279.61,88.49 L281,88.3" fill="none" stroke="#8a2828" stroke-width="1.4" stroke-linejoin="round" />
<path d="M58,105.4 L59.39,105.33 L60.79,105.26 L62.18,105.19 L63.58,105.12 L64.97,105.05 L66.36,104.98 L67.76,104.91 L69.15,104.84 L70.54,104.77 L71.94,104.7 L73.33,104.63 L74.73,104.57 L76.12,104.5 L77.51,104.43 L78.91,104.36 L80.3,104.29 L81.69,104.22 L83.09,104.15 L84.48,104.08 L85.88,104.01 L87.27,103.94 L88.66,103.87 L90.06,103.8 L91.45,103.74 L92.84,103.67 L94.24,103.6 L95.63,103.53 L97.02,103.46 L98.42,103.39 L99.81,103.32 L101.21,103.25 L102.6,103.19 L103.99,103.12 L105.39,103.05 L106.78,102.98 L108.17,102.91 L109.57,102.84 L110.96,102.77 L112.36,102.71 L113.75,102.64 L115.14,102.57 L116.54,102.5 L117.93,102.43 L119.33,102.36 L120.72,102.29 L122.11,102.23 L123.51,102.16 L124.9,102.09 L126.29,102.02 L127.69,101.95 L129.08,101.89 L130.47,101.82 L131.87,101.75 L133.26,101.68 L134.66,101.61 L136.05,101.54 L137.44,101.48 L138.84,101.41 L140.23,101.34 L141.62,101.27 L143.02,101.2 L144.41,101.14 L145.81,101.07 L147.2,101 L148.59,100.93 L149.99,100.86 L151.38,100.8 L152.78,100.73 L154.17,100.66 L155.56,100.59 L156.96,100.52 L158.35,100.46 L159.74,100.39 L161.14,100.32 L162.53,100.25 L163.92,100.19 L165.32,100.12 L166.71,100.05 L168.11,99.98 L169.5,99.91 L170.89,99.85 L172.29,99.78 L173.68,99.71 L175.08,99.64 L176.47,99.58 L177.86,99.51 L179.26,99.44 L180.65,99.37 L182.04,99.3 L183.44,99.24 L184.83,99.17 L186.22,99.1 L187.62,99.03 L189.01,98.97 L190.41,98.9 L191.8,98.83 L193.19,98.76 L194.59,98.69 L195.98,98.63 L197.38,98.54 L198.77,98.45 L200.16,98.36 L201.56,98.26 L202.95,98.17 L204.34,98.08 L205.74,97.98 L207.13,97.89 L208.53,97.79 L209.92,97.7 L211.31,97.61 L212.71,97.51 L214.1,97.42 L215.49,97.33 L216.89,97.23 L218.28,97.14 L219.68,97.04 L221.07,96.95 L222.46,96.85 L223.86,96.76 L225.25,96.67 L226.64,96.57 L228.04,96.48 L229.43,96.38 L230.82,96.29 L232.22,96.19 L233.61,96.1 L235.01,96 L236.4,95.91 L237.79,95.81 L239.19,95.72 L240.58,95.62 L241.97,95.53 L243.37,95.43 L244.76,95.34 L246.16,95.24 L247.55,95.15 L248.94,95.05 L250.34,94.95 L251.73,94.86 L253.12,94.76 L254.52,94.66 L255.91,94.57 L257.31,94.47 L258.7,94.37 L260.09,94.28 L261.49,94.18 L262.88,94.08 L264.27,93.98 L265.67,93.89 L267.06,93.79 L268.46,93.69 L269.85,93.59 L271.24,93.49 L272.64,93.4 L274.03,93.3 L275.43,93.2 L276.82,93.1 L278.21,93 L279.61,92.9 L281,92.8" fill="none" stroke="#128a3a" stroke-width="1.4" stroke-linejoin="round" />
<rect x="58" y="14" width="223" height="162.7" fill="none" stroke="#3a3a3a" stroke-width="1.4"/>
<line x1="53.5" y1="22.21" x2="58" y2="22.21" stroke="#3a3a3a" stroke-width="1.2"/>
<line x1="53.5" y1="47.94" x2="58" y2="47.94" stroke="#3a3a3a" stroke-width="1.2"/>
<line x1="53.5" y1="73.67" x2="58" y2="73.67" stroke="#3a3a3a" stroke-width="1.2"/>
<line x1="53.5" y1="99.4" x2="58" y2="99.4" stroke="#3a3a3a" stroke-width="1.2"/>
<line x1="53.5" y1="125.13" x2="58" y2="125.13" stroke="#3a3a3a" stroke-width="1.2"/>
<line x1="53.5" y1="150.86" x2="58" y2="150.86" stroke="#3a3a3a" stroke-width="1.2"/>
<line x1="53.5" y1="176.59" x2="58" y2="176.59" stroke="#3a3a3a" stroke-width="1.2"/>
<line x1="55.5" y1="35.08" x2="58" y2="35.08" stroke="#3a3a3a" stroke-width="1.2"/>
<line x1="55.5" y1="60.81" x2="58" y2="60.81" stroke="#3a3a3a" stroke-width="1.2"/>
<line x1="55.5" y1="86.54" x2="58" y2="86.54" stroke="#3a3a3a" stroke-width="1.2"/>
<line x1="55.5" y1="112.27" x2="58" y2="112.27" stroke="#3a3a3a" stroke-width="1.2"/>
<line x1="55.5" y1="138" x2="58" y2="138" stroke="#3a3a3a" stroke-width="1.2"/>
<line x1="55.5" y1="163.73" x2="58" y2="163.73" stroke="#3a3a3a" stroke-width="1.2"/>
<line x1="58" y1="176.7" x2="58" y2="181.2" stroke="#3a3a3a" stroke-width="1.2"/>
<line x1="113.75" y1="176.7" x2="113.75" y2="181.2" stroke="#3a3a3a" stroke-width="1.2"/>
<line x1="169.5" y1="176.7" x2="169.5" y2="181.2" stroke="#3a3a3a" stroke-width="1.2"/>
<line x1="225.25" y1="176.7" x2="225.25" y2="181.2" stroke="#3a3a3a" stroke-width="1.2"/>
<line x1="281" y1="176.7" x2="281" y2="181.2" stroke="#3a3a3a" stroke-width="1.2"/>
<line x1="85.88" y1="176.7" x2="85.88" y2="179.2" stroke="#3a3a3a" stroke-width="1.2"/>
<line x1="141.62" y1="176.7" x2="141.62" y2="179.2" stroke="#3a3a3a" stroke-width="1.2"/>
<line x1="197.38" y1="176.7" x2="197.38" y2="179.2" stroke="#3a3a3a" stroke-width="1.2"/>
<line x1="253.12" y1="176.7" x2="253.12" y2="179.2" stroke="#3a3a3a" stroke-width="1.2"/>
<text x="45.2" y="25.83" font-family='"Liberation Sans", sans-serif' font-size="9.0" font-weight="bold" text-anchor="end" fill="#111" stroke="#111" stroke-width="0.25" >9.0x10</text>
<text x="47.4" y="21.26" font-family='"Liberation Sans", sans-serif' font-size="4.6" font-weight="bold" text-anchor="start" fill="#111" stroke="#111" stroke-width="0.25" >-5</text>
<text x="45.2" y="51.56" font-family='"Liberation Sans", sans-serif' font-size="9.0" font-weight="bold" text-anchor="end" fill="#111" stroke="#111" stroke-width="0.25" >6.0x10</text>
<text x="47.4" y="46.99" font-family='"Liberation Sans", sans-serif' font-size="4.6" font-weight="bold" text-anchor="start" fill="#111" stroke="#111" stroke-width="0.25" >-5</text>
<text x="45.2" y="77.29" font-family='"Liberation Sans", sans-serif' font-size="9.0" font-weight="bold" text-anchor="end" fill="#111" stroke="#111" stroke-width="0.25" >3.0x10</text>
<text x="47.4" y="72.72" font-family='"Liberation Sans", sans-serif' font-size="4.6" font-weight="bold" text-anchor="start" fill="#111" stroke="#111" stroke-width="0.25" >-5</text>
<text x="45.2" y="128.75" font-family='"Liberation Sans", sans-serif' font-size="9.0" font-weight="bold" text-anchor="end" fill="#111" stroke="#111" stroke-width="0.25" >-3.0x10</text>
<text x="47.4" y="124.18" font-family='"Liberation Sans", sans-serif' font-size="4.6" font-weight="bold" text-anchor="start" fill="#111" stroke="#111" stroke-width="0.25" >-5</text>
<text x="45.2" y="154.48" font-family='"Liberation Sans", sans-serif' font-size="9.0" font-weight="bold" text-anchor="end" fill="#111" stroke="#111" stroke-width="0.25" >-6.0x10</text>
<text x="47.4" y="149.91" font-family='"Liberation Sans", sans-serif' font-size="4.6" font-weight="bold" text-anchor="start" fill="#111" stroke="#111" stroke-width="0.25" >-5</text>
<text x="45.2" y="180.21" font-family='"Liberation Sans", sans-serif' font-size="9.0" font-weight="bold" text-anchor="end" fill="#111" stroke="#111" stroke-width="0.25" >-9.0x10</text>
<text x="47.4" y="175.64" font-family='"Liberation Sans", sans-serif' font-size="4.6" font-weight="bold" text-anchor="start" fill="#111" stroke="#111" stroke-width="0.25" >-5</text>
<text x="50.5" y="102.02" font-family='"Liberation Sans", sans-serif' font-size="9.0" font-weight="bold" text-anchor="end" fill="#111" stroke="#111" stroke-width="0.25" >0.0</text>
<text x="58" y="191.21" font-family='"Liberation Sans", sans-serif' font-size="8.7" font-weight="bold" text-anchor="middle" fill="#111" stroke="#111" stroke-width="0.25" >-4</text>
<text x="113.75" y="191.21" font-family='"Liberation Sans", sans-serif' font-size="8.7" font-weight="bold" text-anchor="middle" fill="#111" stroke="#111" stroke-width="0.25" >-2</text>
<text x="169.5" y="191.21" font-family='"Liberation Sans", sans-serif' font-size="8.7" font-weight="bold" text-anchor="middle" fill="#111" stroke="#111" stroke-width="0.25" >0</text>
<text x="225.25" y="191.21" font-family='"Liberation Sans", sans-serif' font-size="8.7" font-weight="bold" text-anchor="middle" fill="#111" stroke="#111" stroke-width="0.25" >2</text>
<text x="281" y="191.21" font-family='"Liberation Sans", sans-serif' font-size="8.7" font-weight="bold" text-anchor="middle" fill="#111" stroke="#111" stroke-width="0.25" >4</text>
<text x="170.9" y="203.84" font-family='"Liberation Sans", sans-serif' font-size="9.9" font-weight="bold" text-anchor="middle" fill="#111" stroke="#111" stroke-width="0.25" >Voltage(V)</text>
<text transform="translate(11.5,96.5) rotate(-90)" x="0" y="0" font-family='"Liberation Sans", sans-serif' font-size="10.1" font-weight="bold" text-anchor="middle" fill="#111">Current(A)</text>
<text x="3.1" y="11.3" font-family='"Liberation Serif", serif' font-size="15.5" fill="#111">a</text>
<line x1="66.2" y1="21.6" x2="82" y2="21.6" stroke="#151515" stroke-width="1.6"/>
<text x="102.2" y="24.21" font-family='"Liberation Sans", sans-serif' font-size="7.3" font-weight="bold" text-anchor="end" fill="#111" stroke="#111" stroke-width="0.25" >0&#160;%</text>
<line x1="66.2" y1="31.1" x2="82" y2="31.1" stroke="#e8963e" stroke-width="1.6"/>
<text x="102.2" y="33.71" font-family='"Liberation Sans", sans-serif' font-size="7.3" font-weight="bold" text-anchor="end" fill="#111" stroke="#111" stroke-width="0.25" >0.1%</text>
<line x1="66.2" y1="40.5" x2="82" y2="40.5" stroke="#d83a30" stroke-width="1.6"/>
<text x="102.2" y="43.11" font-family='"Liberation Sans", sans-serif' font-size="7.3" font-weight="bold" text-anchor="end" fill="#111" stroke="#111" stroke-width="0.25" >0.5%</text>
<line x1="66.2" y1="50" x2="82" y2="50" stroke="#18dde8" stroke-width="1.6"/>
<text x="102.2" y="52.61" font-family='"Liberation Sans", sans-serif' font-size="7.3" font-weight="bold" text-anchor="end" fill="#111" stroke="#111" stroke-width="0.25" >1&#160;&#160;%</text>
<line x1="66.2" y1="59.6" x2="82" y2="59.6" stroke="#c8c8c8" stroke-width="1.6"/>
<text x="102.2" y="62.21" font-family='"Liberation Sans", sans-serif' font-size="7.3" font-weight="bold" text-anchor="end" fill="#111" stroke="#111" stroke-width="0.25" >3&#160;&#160;%</text>
<line x1="66.2" y1="69" x2="82" y2="69" stroke="#2a2aa0" stroke-width="1.6"/>
<text x="102.2" y="71.61" font-family='"Liberation Sans", sans-serif' font-size="7.3" font-weight="bold" text-anchor="end" fill="#111" stroke="#111" stroke-width="0.25" >5&#160;&#160;%</text>
<line x1="66.2" y1="78.5" x2="82" y2="78.5" stroke="#10878a" stroke-width="1.6"/>
<text x="102.2" y="81.11" font-family='"Liberation Sans", sans-serif' font-size="7.3" font-weight="bold" text-anchor="end" fill="#111" stroke="#111" stroke-width="0.25" >10&#160;%</text>
<line x1="113.8" y1="21.6" x2="129.3" y2="21.6" stroke="#f040e8" stroke-width="1.6"/>
<text x="149.8" y="24.21" font-family='"Liberation Sans", sans-serif' font-size="7.3" font-weight="bold" text-anchor="end" fill="#111" stroke="#111" stroke-width="0.25" >30&#160;%</text>
<line x1="113.8" y1="31.1" x2="129.3" y2="31.1" stroke="#a0a055" stroke-width="1.6"/>
<text x="149.8" y="33.71" font-family='"Liberation Sans", sans-serif' font-size="7.3" font-weight="bold" text-anchor="end" fill="#111" stroke="#111" stroke-width="0.25" >50&#160;%</text>
<line x1="113.8" y1="40.5" x2="129.3" y2="40.5" stroke="#1c1c78" stroke-width="1.6"/>
<text x="149.8" y="43.11" font-family='"Liberation Sans", sans-serif' font-size="7.3" font-weight="bold" text-anchor="end" fill="#111" stroke="#111" stroke-width="0.25" >80&#160;%</text>
<line x1="113.8" y1="50" x2="129.3" y2="50" stroke="#8a2828" stroke-width="1.6"/>
<text x="149.8" y="52.61" font-family='"Liberation Sans", sans-serif' font-size="7.3" font-weight="bold" text-anchor="end" fill="#111" stroke="#111" stroke-width="0.25" >100%</text>
<line x1="113.8" y1="59.6" x2="129.3" y2="59.6" stroke="#e048a0" stroke-width="1.6"/>
<text x="149.8" y="62.21" font-family='"Liberation Sans", sans-serif' font-size="7.3" font-weight="bold" text-anchor="end" fill="#111" stroke="#111" stroke-width="0.25" >150%</text>
<line x1="113.8" y1="69" x2="129.3" y2="69" stroke="#128a3a" stroke-width="1.6"/>
<text x="149.8" y="71.61" font-family='"Liberation Sans", sans-serif' font-size="7.3" font-weight="bold" text-anchor="end" fill="#111" stroke="#111" stroke-width="0.25" >200%</text>
<rect x="346.4" y="40.7" width="70.4" height="50.8" fill="none" stroke="#333" stroke-width="1.0"/>
<line x1="344.2" y1="90.7" x2="346.4" y2="90.7" stroke="#333" stroke-width="0.8"/>
<line x1="344.2" y1="75.7" x2="346.4" y2="75.7" stroke="#333" stroke-width="0.8"/>
<line x1="344.2" y1="60.7" x2="346.4" y2="60.7" stroke="#333" stroke-width="0.8"/>
<line x1="344.2" y1="45.7" x2="346.4" y2="45.7" stroke="#333" stroke-width="0.8"/>
<line x1="345.1" y1="83.2" x2="346.4" y2="83.2" stroke="#333" stroke-width="0.7"/>
<line x1="345.1" y1="68.2" x2="346.4" y2="68.2" stroke="#333" stroke-width="0.7"/>
<line x1="345.1" y1="53.2" x2="346.4" y2="53.2" stroke="#333" stroke-width="0.7"/>
<line x1="346.5" y1="91.5" x2="346.5" y2="93.5" stroke="#333" stroke-width="0.8"/>
<line x1="359.3" y1="91.5" x2="359.3" y2="93.5" stroke="#333" stroke-width="0.8"/>
<line x1="372.1" y1="91.5" x2="372.1" y2="93.5" stroke="#333" stroke-width="0.8"/>
<line x1="384.9" y1="91.5" x2="384.9" y2="93.5" stroke="#333" stroke-width="0.8"/>
<line x1="397.7" y1="91.5" x2="397.7" y2="93.5" stroke="#333" stroke-width="0.8"/>
<line x1="410.5" y1="91.5" x2="410.5" y2="93.5" stroke="#333" stroke-width="0.8"/>
<line x1="352.9" y1="91.5" x2="352.9" y2="92.7" stroke="#333" stroke-width="0.7"/>
<line x1="365.7" y1="91.5" x2="365.7" y2="92.7" stroke="#333" stroke-width="0.7"/>
<line x1="378.5" y1="91.5" x2="378.5" y2="92.7" stroke="#333" stroke-width="0.7"/>
<line x1="391.3" y1="91.5" x2="391.3" y2="92.7" stroke="#333" stroke-width="0.7"/>
<line x1="404.1" y1="91.5" x2="404.1" y2="92.7" stroke="#333" stroke-width="0.7"/>
<text x="343.6" y="92.79" font-family='"Liberation Sans", sans-serif' font-size="5.0" font-weight="bold" text-anchor="end" fill="#333" stroke="#333" stroke-width="0.25" >0</text>
<text x="343.6" y="77.79" font-family='"Liberation Sans", sans-serif' font-size="5.0" font-weight="bold" text-anchor="end" fill="#333" stroke="#333" stroke-width="0.25" >15</text>
<text x="343.6" y="62.79" font-family='"Liberation Sans", sans-serif' font-size="5.0" font-weight="bold" text-anchor="end" fill="#333" stroke="#333" stroke-width="0.25" >30</text>
<text x="343.6" y="47.79" font-family='"Liberation Sans", sans-serif' font-size="5.0" font-weight="bold" text-anchor="end" fill="#333" stroke="#333" stroke-width="0.25" >45</text>
<text x="346.5" y="98.49" font-family='"Liberation Sans", sans-serif' font-size="5.0" font-weight="bold" text-anchor="middle" fill="#333" stroke="#333" stroke-width="0.25" >0</text>
<text x="359.3" y="98.49" font-family='"Liberation Sans", sans-serif' font-size="5.0" font-weight="bold" text-anchor="middle" fill="#333" stroke="#333" stroke-width="0.25" >1</text>
<text x="372.1" y="98.49" font-family='"Liberation Sans", sans-serif' font-size="5.0" font-weight="bold" text-anchor="middle" fill="#333" stroke="#333" stroke-width="0.25" >2</text>
<text x="384.9" y="98.49" font-family='"Liberation Sans", sans-serif' font-size="5.0" font-weight="bold" text-anchor="middle" fill="#333" stroke="#333" stroke-width="0.25" >3</text>
<text x="397.7" y="98.49" font-family='"Liberation Sans", sans-serif' font-size="5.0" font-weight="bold" text-anchor="middle" fill="#333" stroke="#333" stroke-width="0.25" >4</text>
<text x="410.5" y="98.49" font-family='"Liberation Sans", sans-serif' font-size="5.0" font-weight="bold" text-anchor="middle" fill="#333" stroke="#333" stroke-width="0.25" >5</text>
<text x="383.3" y="103.43" font-family='"Liberation Sans", sans-serif' font-size="6.8" font-weight="bold" text-anchor="middle" fill="#222" stroke="#222" stroke-width="0.25" >Strain(%)</text>
<text transform="translate(337.2,66.6) rotate(-90)" font-family='"Liberation Sans", sans-serif' font-size="6.8" font-weight="bold" text-anchor="middle" fill="#222"><tspan font-weight="normal">&#916;</tspan> R/R<tspan font-size="5.6" dy="1.0">0</tspan><tspan dy="-1.0">(%)</tspan></text>
<path d="M346.5,90.4 L359.3,84.7 L372.1,78.2 L384.9,72 L397.7,60.7 L410.5,49.7 L416.9,47.2" fill="none" stroke="#333" stroke-width="1.0" stroke-linejoin="round" />
<path d="M541.3,30.27 L489.25,103.08 L437.2,132.48 L416.38,142.36 L385.15,146.24 L364.33,149.18 L343.51,151.58 L338.31,152.38 L336.22,153.85 L334.14,155.59 L333.62,156.12 L333.2,156.52 L333.1,156.79" fill="none" stroke="#b02428" stroke-width="1.6" stroke-linejoin="round" />
<path d="M333.1,161.2 L333.2,161.07 L333.62,160.8 L334.14,160.4 L336.22,158.73 L338.31,155.72 L343.51,151.85 L364.33,143.7 L385.15,128.74 L416.38,116.58 L437.2,87.72 L489.25,41.09 L541.3,30.27" fill="none" stroke="#17a0a4" stroke-width="1.6" stroke-linejoin="round" />
<circle cx="541.3" cy="30.27" r="1.85" fill="#f3dede" stroke="#b02428" stroke-width="0.9"/>
<circle cx="489.25" cy="103.08" r="1.85" fill="#f3dede" stroke="#b02428" stroke-width="0.9"/>
<circle cx="437.2" cy="132.48" r="1.85" fill="#f3dede" stroke="#b02428" stroke-width="0.9"/>
<circle cx="416.38" cy="142.36" r="1.85" fill="#f3dede" stroke="#b02428" stroke-width="0.9"/>
<circle cx="385.15" cy="146.24" r="1.85" fill="#f3dede" stroke="#b02428" stroke-width="0.9"/>
<circle cx="364.33" cy="149.18" r="1.85" fill="#f3dede" stroke="#b02428" stroke-width="0.9"/>
<circle cx="343.51" cy="151.58" r="1.85" fill="#f3dede" stroke="#b02428" stroke-width="0.9"/>
<circle cx="338.31" cy="152.38" r="1.85" fill="#f3dede" stroke="#b02428" stroke-width="0.9"/>
<circle cx="336.22" cy="153.85" r="1.85" fill="#f3dede" stroke="#b02428" stroke-width="0.9"/>
<circle cx="334.14" cy="155.59" r="1.85" fill="#f3dede" stroke="#b02428" stroke-width="0.9"/>
<circle cx="333.62" cy="156.12" r="1.85" fill="#f3dede" stroke="#b02428" stroke-width="0.9"/>
<circle cx="333.2" cy="156.52" r="1.85" fill="#f3dede" stroke="#b02428" stroke-width="0.9"/>
<circle cx="333.1" cy="156.79" r="1.85" fill="#f3dede" stroke="#b02428" stroke-width="0.9"/>
<circle cx="333.1" cy="161.2" r="1.85" fill="#dff2f2" stroke="#17a0a4" stroke-width="0.9"/>
<circle cx="333.2" cy="161.07" r="1.85" fill="#dff2f2" stroke="#17a0a4" stroke-width="0.9"/>
<circle cx="333.62" cy="160.8" r="1.85" fill="#dff2f2" stroke="#17a0a4" stroke-width="0.9"/>
<circle cx="334.14" cy="160.4" r="1.85" fill="#dff2f2" stroke="#17a0a4" stroke-width="0.9"/>
<circle cx="336.22" cy="158.73" r="1.85" fill="#dff2f2" stroke="#17a0a4" stroke-width="0.9"/>
<circle cx="338.31" cy="155.72" r="1.85" fill="#dff2f2" stroke="#17a0a4" stroke-width="0.9"/>
<circle cx="343.51" cy="151.85" r="1.85" fill="#dff2f2" stroke="#17a0a4" stroke-width="0.9"/>
<circle cx="364.33" cy="143.7" r="1.85" fill="#dff2f2" stroke="#17a0a4" stroke-width="0.9"/>
<circle cx="385.15" cy="128.74" r="1.85" fill="#dff2f2" stroke="#17a0a4" stroke-width="0.9"/>
<circle cx="416.38" cy="116.58" r="1.85" fill="#dff2f2" stroke="#17a0a4" stroke-width="0.9"/>
<circle cx="437.2" cy="87.72" r="1.85" fill="#dff2f2" stroke="#17a0a4" stroke-width="0.9"/>
<circle cx="489.25" cy="41.09" r="1.85" fill="#dff2f2" stroke="#17a0a4" stroke-width="0.9"/>
<circle cx="541.3" cy="30.27" r="1.85" fill="#dff2f2" stroke="#17a0a4" stroke-width="0.9"/>
<line x1="436.8" y1="80.6" x2="460.2" y2="57.2" stroke="#ee1c1c" stroke-width="1.6"/>
<path d="M453.65,58 L460.2,57.2 L459.4,63.75" fill="none" stroke="#ee1c1c" stroke-width="1.6" stroke-linecap="butt" stroke-linejoin="miter"/>
<line x1="484.4" y1="90.6" x2="460.9" y2="108.2" stroke="#ee1c1c" stroke-width="1.6"/>
<path d="M467.5,108.33 L460.9,108.2 L462.63,101.83" fill="none" stroke="#ee1c1c" stroke-width="1.6" stroke-linecap="butt" stroke-linejoin="miter"/>
<rect x="327.5" y="14.4" width="219" height="160.2" fill="none" stroke="#3a3a3a" stroke-width="1.4"/>
<line x1="323" y1="161.2" x2="327.5" y2="161.2" stroke="#3a3a3a" stroke-width="1.2"/>
<line x1="323" y1="134.48" x2="327.5" y2="134.48" stroke="#3a3a3a" stroke-width="1.2"/>
<line x1="323" y1="107.76" x2="327.5" y2="107.76" stroke="#3a3a3a" stroke-width="1.2"/>
<line x1="323" y1="81.04" x2="327.5" y2="81.04" stroke="#3a3a3a" stroke-width="1.2"/>
<line x1="323" y1="54.32" x2="327.5" y2="54.32" stroke="#3a3a3a" stroke-width="1.2"/>
<line x1="323" y1="27.6" x2="327.5" y2="27.6" stroke="#3a3a3a" stroke-width="1.2"/>
<line x1="325" y1="174.56" x2="327.5" y2="174.56" stroke="#3a3a3a" stroke-width="1.2"/>
<line x1="325" y1="147.84" x2="327.5" y2="147.84" stroke="#3a3a3a" stroke-width="1.2"/>
<line x1="325" y1="121.12" x2="327.5" y2="121.12" stroke="#3a3a3a" stroke-width="1.2"/>
<line x1="325" y1="94.4" x2="327.5" y2="94.4" stroke="#3a3a3a" stroke-width="1.2"/>
<line x1="325" y1="67.68" x2="327.5" y2="67.68" stroke="#3a3a3a" stroke-width="1.2"/>
<line x1="325" y1="40.96" x2="327.5" y2="40.96" stroke="#3a3a3a" stroke-width="1.2"/>
<line x1="325" y1="14.24" x2="327.5" y2="14.24" stroke="#3a3a3a" stroke-width="1.2"/>
<line x1="333.1" y1="174.6" x2="333.1" y2="179.1" stroke="#3a3a3a" stroke-width="1.2"/>
<line x1="385.15" y1="174.6" x2="385.15" y2="179.1" stroke="#3a3a3a" stroke-width="1.2"/>
<line x1="437.2" y1="174.6" x2="437.2" y2="179.1" stroke="#3a3a3a" stroke-width="1.2"/>
<line x1="489.25" y1="174.6" x2="489.25" y2="179.1" stroke="#3a3a3a" stroke-width="1.2"/>
<line x1="541.3" y1="174.6" x2="541.3" y2="179.1" stroke="#3a3a3a" stroke-width="1.2"/>
<line x1="359.12" y1="174.6" x2="359.12" y2="177.1" stroke="#3a3a3a" stroke-width="1.2"/>
<line x1="411.18" y1="174.6" x2="411.18" y2="177.1" stroke="#3a3a3a" stroke-width="1.2"/>
<line x1="463.23" y1="174.6" x2="463.23" y2="177.1" stroke="#3a3a3a" stroke-width="1.2"/>
<line x1="515.27" y1="174.6" x2="515.27" y2="177.1" stroke="#3a3a3a" stroke-width="1.2"/>
<text x="322" y="163.99" font-family='"Liberation Sans", sans-serif' font-size="8.9" font-weight="bold" text-anchor="end" fill="#111" stroke="#111" stroke-width="0.25" >0</text>
<text x="322" y="137.27" font-family='"Liberation Sans", sans-serif' font-size="8.9" font-weight="bold" text-anchor="end" fill="#111" stroke="#111" stroke-width="0.25" >200</text>
<text x="322" y="110.55" font-family='"Liberation Sans", sans-serif' font-size="8.9" font-weight="bold" text-anchor="end" fill="#111" stroke="#111" stroke-width="0.25" >400</text>
<text x="322" y="83.83" font-family='"Liberation Sans", sans-serif' font-size="8.9" font-weight="bold" text-anchor="end" fill="#111" stroke="#111" stroke-width="0.25" >600</text>
<text x="322" y="57.11" font-family='"Liberation Sans", sans-serif' font-size="8.9" font-weight="bold" text-anchor="end" fill="#111" stroke="#111" stroke-width="0.25" >800</text>
<text x="322" y="30.39" font-family='"Liberation Sans", sans-serif' font-size="8.9" font-weight="bold" text-anchor="end" fill="#111" stroke="#111" stroke-width="0.25" >1000</text>
<text x="333.3" y="187.39" font-family='"Liberation Sans", sans-serif' font-size="8.9" font-weight="bold" text-anchor="middle" fill="#111" stroke="#111" stroke-width="0.25" >0</text>
<text x="385.35" y="187.39" font-family='"Liberation Sans", sans-serif' font-size="8.9" font-weight="bold" text-anchor="middle" fill="#111" stroke="#111" stroke-width="0.25" >50</text>
<text x="437.4" y="187.39" font-family='"Liberation Sans", sans-serif' font-size="8.9" font-weight="bold" text-anchor="middle" fill="#111" stroke="#111" stroke-width="0.25" >100</text>
<text x="489.45" y="187.39" font-family='"Liberation Sans", sans-serif' font-size="8.9" font-weight="bold" text-anchor="middle" fill="#111" stroke="#111" stroke-width="0.25" >150</text>
<text x="541.5" y="187.39" font-family='"Liberation Sans", sans-serif' font-size="8.9" font-weight="bold" text-anchor="middle" fill="#111" stroke="#111" stroke-width="0.25" >200</text>
<text x="441.3" y="199.34" font-family='"Liberation Sans", sans-serif' font-size="9.9" font-weight="bold" text-anchor="middle" fill="#111" stroke="#111" stroke-width="0.25" >Strain(%)</text>
<text transform="translate(300.0,97) rotate(-90)" font-family='"Liberation Sans", sans-serif' font-size="10.2" font-weight="bold" text-anchor="middle" fill="#111"><tspan font-weight="normal">&#916;</tspan> R/R<tspan font-size="8.4" dy="1.8">0</tspan><tspan dy="-1.8">(%)</tspan></text>
<text x="290.3" y="12.4" font-family='"Liberation Serif", serif' font-size="14.8" fill="#111">b</text>
<line x1="331.7" y1="19.9" x2="346.3" y2="19.9" stroke="#b02428" stroke-width="1.6"/>
<circle cx="339.1" cy="19.9" r="1.85" fill="#f3dede" stroke="#b02428" stroke-width="0.9"/>
<line x1="331.7" y1="29.7" x2="346.3" y2="29.7" stroke="#17a0a4" stroke-width="1.6"/>
<circle cx="339.1" cy="29.7" r="1.85" fill="#dff2f2" stroke="#17a0a4" stroke-width="0.9"/>
<text x="348.3" y="22.48" font-family='"Liberation Sans", sans-serif' font-size="7.2" font-weight="bold" text-anchor="start" fill="#111" stroke="#111" stroke-width="0.25" >200-0%</text>
<text x="348.3" y="32.28" font-family='"Liberation Sans", sans-serif' font-size="7.2" font-weight="bold" text-anchor="start" fill="#111" stroke="#111" stroke-width="0.25" >0-200%</text>
<rect x="59.3" y="210.4" width="217.2" height="40.8" fill="none" stroke="#444" stroke-width="1.3"/>
<line x1="54.8" y1="246.2" x2="59.3" y2="246.2" stroke="#333" stroke-width="1.1"/>
<text x="52.2" y="249.19" font-family='"Liberation Sans", sans-serif' font-size="8.9" font-weight="bold" text-anchor="end" fill="#111" stroke="#111" stroke-width="0.25" >0.0</text>
<line x1="54.8" y1="236.7" x2="59.3" y2="236.7" stroke="#333" stroke-width="1.1"/>
<text x="52.2" y="239.69" font-family='"Liberation Sans", sans-serif' font-size="8.9" font-weight="bold" text-anchor="end" fill="#111" stroke="#111" stroke-width="0.25" >0.4</text>
<line x1="54.8" y1="227.2" x2="59.3" y2="227.2" stroke="#333" stroke-width="1.1"/>
<text x="52.2" y="230.19" font-family='"Liberation Sans", sans-serif' font-size="8.9" font-weight="bold" text-anchor="end" fill="#111" stroke="#111" stroke-width="0.25" >0.8</text>
<line x1="54.8" y1="217.7" x2="59.3" y2="217.7" stroke="#333" stroke-width="1.1"/>
<text x="52.2" y="220.69" font-family='"Liberation Sans", sans-serif' font-size="8.9" font-weight="bold" text-anchor="end" fill="#111" stroke="#111" stroke-width="0.25" >1.2</text>
<line x1="56.8" y1="241.45" x2="59.3" y2="241.45" stroke="#333" stroke-width="1.0"/>
<line x1="56.8" y1="231.95" x2="59.3" y2="231.95" stroke="#333" stroke-width="1.0"/>
<line x1="56.8" y1="222.45" x2="59.3" y2="222.45" stroke="#333" stroke-width="1.0"/>
<line x1="56.8" y1="212.95" x2="59.3" y2="212.95" stroke="#333" stroke-width="1.0"/>
<rect x="59.3" y="254.6" width="217.2" height="41.3" fill="none" stroke="#444" stroke-width="1.3"/>
<line x1="54.8" y1="291" x2="59.3" y2="291" stroke="#333" stroke-width="1.1"/>
<text x="52.2" y="293.99" font-family='"Liberation Sans", sans-serif' font-size="8.9" font-weight="bold" text-anchor="end" fill="#111" stroke="#111" stroke-width="0.25" >0</text>
<line x1="54.8" y1="281.85" x2="59.3" y2="281.85" stroke="#333" stroke-width="1.1"/>
<text x="52.2" y="284.84" font-family='"Liberation Sans", sans-serif' font-size="8.9" font-weight="bold" text-anchor="end" fill="#111" stroke="#111" stroke-width="0.25" >2</text>
<line x1="54.8" y1="272.7" x2="59.3" y2="272.7" stroke="#333" stroke-width="1.1"/>
<text x="52.2" y="275.69" font-family='"Liberation Sans", sans-serif' font-size="8.9" font-weight="bold" text-anchor="end" fill="#111" stroke="#111" stroke-width="0.25" >4</text>
<line x1="54.8" y1="263.55" x2="59.3" y2="263.55" stroke="#333" stroke-width="1.1"/>
<text x="52.2" y="266.54" font-family='"Liberation Sans", sans-serif' font-size="8.9" font-weight="bold" text-anchor="end" fill="#111" stroke="#111" stroke-width="0.25" >6</text>
<line x1="54.8" y1="254.4" x2="59.3" y2="254.4" stroke="#333" stroke-width="1.1"/>
<text x="52.2" y="257.39" font-family='"Liberation Sans", sans-serif' font-size="8.9" font-weight="bold" text-anchor="end" fill="#111" stroke="#111" stroke-width="0.25" >8</text>
<line x1="56.8" y1="286.43" x2="59.3" y2="286.43" stroke="#333" stroke-width="1.0"/>
<line x1="56.8" y1="277.27" x2="59.3" y2="277.27" stroke="#333" stroke-width="1.0"/>
<line x1="56.8" y1="268.12" x2="59.3" y2="268.12" stroke="#333" stroke-width="1.0"/>
<line x1="56.8" y1="258.98" x2="59.3" y2="258.98" stroke="#333" stroke-width="1.0"/>
<rect x="59.3" y="300" width="217.2" height="41.1" fill="none" stroke="#444" stroke-width="1.3"/>
<line x1="54.8" y1="338" x2="59.3" y2="338" stroke="#333" stroke-width="1.1"/>
<text x="52.2" y="340.99" font-family='"Liberation Sans", sans-serif' font-size="8.9" font-weight="bold" text-anchor="end" fill="#111" stroke="#111" stroke-width="0.25" >0</text>
<line x1="54.8" y1="327" x2="59.3" y2="327" stroke="#333" stroke-width="1.1"/>
<text x="52.2" y="329.99" font-family='"Liberation Sans", sans-serif' font-size="8.9" font-weight="bold" text-anchor="end" fill="#111" stroke="#111" stroke-width="0.25" >20</text>
<line x1="54.8" y1="316" x2="59.3" y2="316" stroke="#333" stroke-width="1.1"/>
<text x="52.2" y="318.99" font-family='"Liberation Sans", sans-serif' font-size="8.9" font-weight="bold" text-anchor="end" fill="#111" stroke="#111" stroke-width="0.25" >40</text>
<line x1="54.8" y1="305" x2="59.3" y2="305" stroke="#333" stroke-width="1.1"/>
<text x="52.2" y="307.99" font-family='"Liberation Sans", sans-serif' font-size="8.9" font-weight="bold" text-anchor="end" fill="#111" stroke="#111" stroke-width="0.25" >60</text>
<line x1="56.8" y1="332.5" x2="59.3" y2="332.5" stroke="#333" stroke-width="1.0"/>
<line x1="56.8" y1="321.5" x2="59.3" y2="321.5" stroke="#333" stroke-width="1.0"/>
<line x1="56.8" y1="310.5" x2="59.3" y2="310.5" stroke="#333" stroke-width="1.0"/>
<rect x="59.3" y="345.2" width="215.6" height="42.5" fill="none" stroke="#444" stroke-width="1.3"/>
<line x1="54.8" y1="386.5" x2="59.3" y2="386.5" stroke="#333" stroke-width="1.1"/>
<text x="52.2" y="389.49" font-family='"Liberation Sans", sans-serif' font-size="8.9" font-weight="bold" text-anchor="end" fill="#111" stroke="#111" stroke-width="0.25" >0</text>
<line x1="54.8" y1="372.7" x2="59.3" y2="372.7" stroke="#333" stroke-width="1.1"/>
<text x="52.2" y="375.69" font-family='"Liberation Sans", sans-serif' font-size="8.9" font-weight="bold" text-anchor="end" fill="#111" stroke="#111" stroke-width="0.25" >100</text>
<line x1="54.8" y1="358.9" x2="59.3" y2="358.9" stroke="#333" stroke-width="1.1"/>
<text x="52.2" y="361.89" font-family='"Liberation Sans", sans-serif' font-size="8.9" font-weight="bold" text-anchor="end" fill="#111" stroke="#111" stroke-width="0.25" >200</text>
<line x1="54.8" y1="345.1" x2="59.3" y2="345.1" stroke="#333" stroke-width="1.1"/>
<text x="52.2" y="348.09" font-family='"Liberation Sans", sans-serif' font-size="8.9" font-weight="bold" text-anchor="end" fill="#111" stroke="#111" stroke-width="0.25" >300</text>
<line x1="56.8" y1="379.6" x2="59.3" y2="379.6" stroke="#333" stroke-width="1.0"/>
<line x1="56.8" y1="365.8" x2="59.3" y2="365.8" stroke="#333" stroke-width="1.0"/>
<line x1="56.8" y1="352" x2="59.3" y2="352" stroke="#333" stroke-width="1.0"/>
<path d="M59.8,240.5 C60.5,240.48 62.67,240.74 64,240.38 C65.33,240.02 66.9,239.77 67.8,238.36 C68.7,236.96 68.9,234.09 69.4,231.95 C69.9,229.81 70.37,227 70.8,225.54 C71.23,224.07 71.57,223.64 72,223.16 C72.43,222.69 72.95,222.77 73.4,222.69 C73.85,222.61 74.27,222.61 74.7,222.69 C75.13,222.77 75.58,222.69 76,223.16 C76.42,223.64 76.75,224.15 77.2,225.54 C77.65,226.92 78.2,229.34 78.7,231.47 C79.2,233.61 79.65,236.46 80.2,238.36 C80.75,240.26 81.47,241.89 82,242.88 C82.53,243.86 82.97,244.26 83.4,244.3 C83.83,244.34 84.17,243.67 84.6,243.11 C85.03,242.56 85.35,241.45 86,240.97 C86.65,240.5 87.7,240.74 88.5,240.26 C89.3,239.79 90.15,239.51 90.8,238.12 C91.45,236.74 91.9,234.05 92.4,231.95 C92.9,229.85 93.37,227 93.8,225.54 C94.23,224.07 94.57,223.64 95,223.16 C95.43,222.69 95.95,222.77 96.4,222.69 C96.85,222.61 97.27,222.61 97.7,222.69 C98.13,222.77 98.58,222.69 99,223.16 C99.42,223.64 99.75,224.15 100.2,225.54 C100.65,226.92 101.2,229.34 101.7,231.47 C102.2,233.61 102.65,236.46 103.2,238.36 C103.75,240.26 104.47,241.89 105,242.88 C105.53,243.86 105.97,244.26 106.4,244.3 C106.83,244.34 107.17,243.67 107.6,243.11 C108.03,242.56 108.35,241.45 109,240.97 C109.65,240.5 110.67,240.74 111.5,240.26 C112.33,239.79 113.32,239.51 114,238.12 C114.68,236.74 115.1,234.01 115.6,231.95 C116.1,229.89 116.57,227.2 117,225.77 C117.43,224.35 117.77,223.87 118.2,223.4 C118.63,222.92 119.15,223 119.6,222.92 C120.05,222.85 120.47,222.85 120.9,222.92 C121.33,223 121.78,222.92 122.2,223.4 C122.62,223.87 122.95,224.43 123.4,225.77 C123.85,227.12 124.4,229.38 124.9,231.47 C125.4,233.57 125.85,236.34 126.4,238.36 C126.95,240.38 127.67,242.48 128.2,243.59 C128.73,244.7 129.17,244.97 129.6,245.01 C130.03,245.05 130.37,244.42 130.8,243.82 C131.23,243.23 131.55,241.96 132.2,241.45 C132.85,240.94 133.65,241.21 134.7,240.74 C135.75,240.26 137.6,240.06 138.5,238.6 C139.4,237.14 139.6,234.09 140.1,231.95 C140.6,229.81 141.07,227.2 141.5,225.77 C141.93,224.35 142.27,223.87 142.7,223.4 C143.13,222.92 143.65,223 144.1,222.92 C144.55,222.85 144.97,222.85 145.4,222.92 C145.83,223 146.28,222.92 146.7,223.4 C147.12,223.87 147.45,224.43 147.9,225.77 C148.35,227.12 148.9,229.38 149.4,231.47 C149.9,233.57 150.35,236.3 150.9,238.36 C151.45,240.42 152.17,242.68 152.7,243.82 C153.23,244.97 153.67,245.21 154.1,245.25 C154.53,245.29 154.87,244.7 155.3,244.06 C155.73,243.43 156.05,242 156.7,241.45 C157.35,240.9 158.05,241.21 159.2,240.74 C160.35,240.26 162.6,240.06 163.6,238.6 C164.6,237.14 164.7,234.09 165.2,231.95 C165.7,229.81 166.17,227.2 166.6,225.77 C167.03,224.35 167.37,223.87 167.8,223.4 C168.23,222.92 168.75,223 169.2,222.92 C169.65,222.85 170.07,222.85 170.5,222.92 C170.93,223 171.38,222.92 171.8,223.4 C172.22,223.87 172.55,224.43 173,225.77 C173.45,227.12 174,229.38 174.5,231.47 C175,233.57 175.45,236.22 176,238.36 C176.55,240.5 177.27,243.07 177.8,244.3 C178.33,245.53 178.77,245.69 179.2,245.72 C179.63,245.76 179.97,245.21 180.4,244.54 C180.83,243.86 181.15,242.28 181.8,241.69 C182.45,241.09 183.23,241.45 184.3,240.97 C185.37,240.5 187.28,240.34 188.2,238.84 C189.12,237.33 189.3,234.05 189.8,231.95 C190.3,229.85 190.77,227.6 191.2,226.25 C191.63,224.9 191.97,224.35 192.4,223.88 C192.83,223.4 193.35,223.48 193.8,223.4 C194.25,223.32 194.67,223.32 195.1,223.4 C195.53,223.48 195.98,223.4 196.4,223.88 C196.82,224.35 197.15,224.98 197.6,226.25 C198.05,227.52 198.6,229.46 199.1,231.47 C199.6,233.49 200.05,236.15 200.6,238.36 C201.15,240.58 201.87,243.47 202.4,244.77 C202.93,246.08 203.37,246.16 203.8,246.2 C204.23,246.24 204.57,245.69 205,245.01 C205.43,244.34 205.75,242.76 206.4,242.16 C207.05,241.57 207.67,241.92 208.9,241.45 C210.13,240.97 212.72,240.9 213.8,239.31 C214.88,237.73 214.9,233.97 215.4,231.95 C215.9,229.93 216.37,228.39 216.8,227.2 C217.23,226.01 217.57,225.3 218,224.82 C218.43,224.35 218.95,224.43 219.4,224.35 C219.85,224.27 220.27,224.27 220.7,224.35 C221.13,224.43 221.58,224.35 222,224.82 C222.42,225.3 222.75,226.09 223.2,227.2 C223.65,228.31 224.2,229.61 224.7,231.47 C225.2,233.34 225.65,236.03 226.2,238.36 C226.75,240.7 227.47,244.06 228,245.49 C228.53,246.91 228.97,246.87 229.4,246.91 C229.83,246.95 230.17,246.32 230.6,245.72 C231.03,245.13 231.35,243.86 232,243.35 C232.65,242.84 233.23,243.11 234.5,242.64 C235.77,242.16 238.48,242.28 239.6,240.5 C240.72,238.72 240.7,233.97 241.2,231.95 C241.7,229.93 242.17,229.38 242.6,228.39 C243.03,227.4 243.37,226.49 243.8,226.01 C244.23,225.54 244.75,225.62 245.2,225.54 C245.65,225.46 246.07,225.46 246.5,225.54 C246.93,225.62 247.38,225.54 247.8,226.01 C248.22,226.49 248.55,227.48 249,228.39 C249.45,229.3 250,229.81 250.5,231.47 C251,233.14 251.45,235.99 252,238.36 C252.55,240.74 253.27,244.26 253.8,245.72 C254.33,247.19 254.77,247.11 255.2,247.15 C255.63,247.19 255.97,246.52 256.4,245.96 C256.83,245.41 257.15,244.3 257.8,243.82 C258.45,243.35 259,243.59 260.3,243.11 C261.6,242.64 264.45,242.84 265.6,240.97 C266.75,239.11 266.7,233.89 267.2,231.95 C267.7,230.01 268.17,230.17 268.6,229.34 C269.03,228.51 269.37,227.44 269.8,226.96 C270.23,226.49 270.75,226.57 271.2,226.49 C271.65,226.41 272.07,226.41 272.5,226.49 C272.93,226.57 273.38,226.49 273.8,226.96 C274.22,227.44 274.6,226.92 275,229.34 C275.4,231.75 276,239.43 276.2,241.45" fill="none" stroke="#111" stroke-width="1.5" stroke-linejoin="round" />
<path d="M59.6,290.54 L65.5,289.4 L67.3,284.6 L70.5,263.55 L77.6,265.38 L79.8,271.33 L84.2,290.54 L86,290.31 L89.5,288.94 L91.3,284.6 L94.5,263.55 L101.6,265.38 L103.8,271.33 L108.2,290.54 L110,290.31 L113.3,288.94 L115.1,284.6 L118.3,263.55 L125.4,265.38 L127.6,271.33 L132,290.54 L133.8,290.31 L136.2,288.94 L138,284.6 L141.2,263.55 L148.3,265.38 L150.5,271.33 L154.9,290.54 L156.7,290.31 L159.1,288.94 L160.9,284.6 L164.1,263.55 L171.2,265.38 L173.4,271.33 L177.8,290.54 L179.6,290.31 L184,288.94 L185.8,284.6 L189,263.55 L196.1,265.38 L198.3,271.33 L202.7,290.54 L204.5,290.31 L208.6,288.94 L210.4,284.6 L213.6,263.55 L220.7,265.38 L222.9,271.33 L227.3,290.54 L229.1,290.31 L233,288.94 L234.8,284.6 L238,263.55 L245.1,265.38 L247.3,271.33 L251.7,290.54 L253.5,290.31 L257.4,288.94 L259.2,284.6 L262.4,263.55 L269.5,265.38 L271.7,271.33 L276,289.63" fill="none" stroke="#111" stroke-width="1.5" stroke-linejoin="round" />
<path d="M59.6,337.18 L61.8,335.42 L66.5,307.42 L71.1,309.4 L78.7,338.22 L80.5,337.45 L84.9,335.42 L89.6,307.42 L94.2,309.4 L101.8,338.22 L103.6,337.45 L108.4,335.42 L113.1,307.42 L117.7,309.4 L125.3,338.22 L127.1,337.45 L133.7,335.42 L138.4,307.42 L143,309.4 L150.6,338.22 L152.4,337.45 L157.8,335.42 L162.5,307.42 L167.1,309.4 L174.7,338.22 L176.5,337.45 L182.6,335.42 L187.3,307.42 L191.9,309.4 L199.5,338.22 L201.3,337.45 L207.3,335.42 L212,307.42 L216.6,309.4 L224.2,338.22 L226,337.45 L231.4,335.42 L236.1,307.42 L240.7,309.4 L248.3,338.22 L250.1,337.45 L256.1,335.42 L260.8,307.42 L265.4,309.4 L273,338.22 L274.8,337.45 L275.8,335.8" fill="none" stroke="#111" stroke-width="1.5" stroke-linejoin="round" />
<path d="M59.8,386.5 L69.3,352.69 L70.3,352.69 L84.1,386.5 L93.5,352.69 L94.5,352.69 L107.9,386.5 L117.2,352.69 L118.2,352.69 L131.7,386.5 L141,352.69 L142,352.69 L155.8,386.5 L165,352.69 L166,352.69 L179.2,386.5 L189.5,352.69 L190.5,352.69 L203,386.5 L212.7,352.69 L213.7,352.69 L227.1,386.5 L236.7,352.69 L237.7,352.69 L251.1,386.5 L260.8,352.69 L261.8,352.69 L274.6,386.5" fill="none" stroke="#111" stroke-width="1.5" stroke-linejoin="round" />
<line x1="61.4" y1="215" x2="78.6" y2="215" stroke="#111" stroke-width="1.4"/>
<text x="81.4" y="218.31" font-family='"Liberation Sans", sans-serif' font-size="8.4" font-weight="bold" text-anchor="start" fill="#111" stroke="#111" stroke-width="0.25" >0.1%</text>
<line x1="63.7" y1="260.1" x2="81.4" y2="260.1" stroke="#111" stroke-width="1.4"/>
<text x="83.5" y="263.41" font-family='"Liberation Sans", sans-serif' font-size="8.4" font-weight="bold" text-anchor="start" fill="#111" stroke="#111" stroke-width="0.25" >1%</text>
<line x1="63.7" y1="304.1" x2="81.4" y2="304.1" stroke="#111" stroke-width="1.4"/>
<text x="83.5" y="307.41" font-family='"Liberation Sans", sans-serif' font-size="8.4" font-weight="bold" text-anchor="start" fill="#111" stroke="#111" stroke-width="0.25" >10%</text>
<line x1="60" y1="349.1" x2="77.3" y2="349.1" stroke="#111" stroke-width="1.4"/>
<text x="80" y="352.41" font-family='"Liberation Sans", sans-serif' font-size="8.4" font-weight="bold" text-anchor="start" fill="#111" stroke="#111" stroke-width="0.25" >50%</text>
<text transform="translate(26.4,301.8) rotate(-90)" font-family='"Liberation Sans", sans-serif' font-size="12" font-weight="bold" text-anchor="middle" fill="#111"><tspan font-weight="normal">&#916;</tspan> R/R<tspan font-size="6.8" dy="2.5">0</tspan><tspan dy="-2.5">(%)</tspan></text>
<text x="1.9" y="205.2" font-family='"Liberation Serif", serif' font-size="15.8" fill="#111">c</text>
<rect x="461.2" y="283" width="3.6" height="90" fill="#b8b8b8" stroke="#ee3333" stroke-width="0.9"/>
<path d="M329.9,286.19 L331.05,286.58 L332.12,286.44 L333.49,285.87 L335,285.84 L336.43,285.88 L337.52,286.31 L337.9,287 L338.7,292.2 L339.7,292.2 L340.5,287 L341,285.95 L342.22,286.55 L344.17,286.49 L345.57,286.97 L346.61,286.83 L347.9,285.97 L349.02,286.17 L350.84,286.02 L352.42,286.57 L353.79,286.46 L354.65,287 L355.45,292.2 L356.45,292.2 L357.25,287 L357.75,285.87 L358.96,286.62 L360.38,286.18 L361.97,286.34 L363.27,286.75 L364.97,286.09 L366.54,286.43 L368.42,286.68 L369.71,286.98 L370.82,286.3 L371.4,287 L372.2,292.2 L373.2,292.2 L374,287 L374.5,285.98 L375.99,285.85 L377.66,286.72 L379.23,286.85 L380.54,286.63 L382.14,286.5 L383.59,286.81 L385.54,286.37 L387.2,285.87 L388.15,287 L388.95,292.2 L389.95,292.2 L390.75,287 L391.25,286.58 L393.24,286.79 L394.53,286.26 L396.2,285.83 L397.66,286 L398.78,285.87 L400.54,285.96 L401.79,286.27 L403.66,285.9 L404.9,287 L405.7,292.2 L406.7,292.2 L407.5,287 L408,286.46 L409.88,286.78 L411.75,286.13 L413.16,286.23 L415.05,286.95 L416.2,286.01 L417.43,286.08 L418.91,286.51 L420.18,285.8 L421.65,287 L422.45,292.2 L423.45,292.2 L424.25,287 L424.75,286.24 L426.32,286.94 L428.01,286.42 L429.62,286.61 L430.68,286.88 L432.46,286.85 L434.26,286.27 L435.66,285.92 L437.29,285.87 L438.4,287 L439.2,292.2 L440.2,292.2 L441,287 L441.5,286.05 L442.66,286.21 L443.71,285.8 L444.87,285.92 L446.23,285.83 L448.1,286.54 L449.25,286.1 L450.6,286.24 L451.72,286.82 L453.72,286.36 L455.15,287 L455.95,292.2 L456.95,292.2 L457.75,287 L458.25,285.9 L459.35,286.21 L460.62,286.79 L461.78,285.83 L463.73,286.43 L464.88,286.45 L465.9,286.43 L467.88,286.84 L469.58,286.11 L470.94,286 L471.9,287 L472.7,292.2 L473.7,292.2 L474.5,287 L475,286.44 L476.78,286.2 L478,286.77 L479.99,286.82 L481.79,286.78 L483.53,286.07 L485.05,286.23 L486.08,285.83 L487.36,286.11 L488.65,287 L489.45,292.2 L490.45,292.2 L491.25,287 L491.75,286.95 L493.2,286.92 L495.19,286.95 L496.55,286.06 L497.78,286.04 L498.98,286.55 L500.88,286.81 L502.36,286.58 L504.16,285.9 L505.4,287 L506.2,292.2 L507.2,292.2 L508,287 L508.5,286.89 L510.28,286.7 L511.76,286.01 L513.55,286.2 L515.35,286.97 L516.75,286.28 L518.69,286.67 L519.86,285.95 L521.01,286.89 L522.15,287 L522.95,292.2 L523.95,292.2 L524.75,287 L525.25,285.98 L527.08,286.98 L528.73,286.22 L530.28,285.96 L531.3,286.97 L532.95,286.43 L534.88,286.32 L536.75,286.79 L537.96,286.1 L538.9,287 L539.7,292.2 L540.7,292.2 L541.5,287 L542,286.09 L543.59,286.11 L545.01,285.96 L546.2,286.8 L546.2,373 L546.2,373 L546.2,373 L546.2,370.6 L544.65,369.6 L542.65,369 L540.15,369.7 L538.15,369.2 L536.15,369.9 L534.15,370.3 L532.95,371.6 L532.15,373 L530.75,373 L529.75,370.6 L528.1,369.6 L526.1,369 L523.6,369.7 L521.6,369.2 L519.6,369.9 L517.6,370.3 L516.4,371.6 L515.6,373 L514.2,373 L513.2,370.6 L511.55,369.6 L509.55,369 L507.05,369.7 L505.05,369.2 L503.05,369.9 L501.05,370.3 L499.85,371.6 L499.05,373 L497.65,373 L496.65,370.6 L495,369.6 L493,369 L490.5,369.7 L488.5,369.2 L486.5,369.9 L484.5,370.3 L483.3,371.6 L482.5,373 L481.1,373 L480.1,370.6 L478.45,369.6 L476.45,369 L473.95,369.7 L471.95,369.2 L469.95,369.9 L467.95,370.3 L466.75,371.6 L465.95,373 L464.55,373 L463.55,370.6 L461.9,369.6 L459.9,369 L457.4,369.7 L455.4,369.2 L453.4,369.9 L451.4,370.3 L450.2,371.6 L449.4,373 L448,373 L447,370.6 L445.35,369.6 L443.35,369 L440.85,369.7 L438.85,369.2 L436.85,369.9 L434.85,370.3 L433.65,371.6 L432.85,373 L431.45,373 L430.45,370.6 L428.8,369.6 L426.8,369 L424.3,369.7 L422.3,369.2 L420.3,369.9 L418.3,370.3 L417.1,371.6 L416.3,373 L414.9,373 L413.9,370.6 L412.25,369.6 L410.25,369 L407.75,369.7 L405.75,369.2 L403.75,369.9 L401.75,370.3 L400.55,371.6 L399.75,373 L398.35,373 L397.35,370.6 L395.7,369.6 L393.7,369 L391.2,369.7 L389.2,369.2 L387.2,369.9 L385.2,370.3 L384,371.6 L383.2,373 L381.8,373 L380.8,370.6 L379.15,369.6 L377.15,369 L374.65,369.7 L372.65,369.2 L370.65,369.9 L368.65,370.3 L367.45,371.6 L366.65,373 L365.25,373 L364.25,370.6 L362.6,369.6 L360.6,369 L358.1,369.7 L356.1,369.2 L354.1,369.9 L352.1,370.3 L350.9,371.6 L350.1,373 L348.7,373 L347.7,370.6 L346.05,369.6 L344.05,369 L341.55,369.7 L339.55,369.2 L337.55,369.9 L335.55,370.3 L334.35,371.6 L333.55,373 L329.9,373 Z" fill="#000"/>
<path d="M331.3,286.2 v1.91 M334.14,286.2 v2.37 M343.88,286.2 v2.2 M346.83,286.2 v2.25 M349.05,286.2 v2.08 M351.51,286.2 v1.21 M360.13,286.2 v2.65 M363.11,286.2 v1.85 M366.04,286.2 v2.31 M369.33,286.2 v1.41 M377.45,286.2 v2.74 M380.36,286.2 v2.32 M383.63,286.2 v3.02 M386.45,286.2 v2.43 M392.27,286.2 v2.59 M395.11,286.2 v2.27 M397.98,286.2 v3.08 M401.16,286.2 v2.95 M410.22,286.2 v3.09 M413.6,286.2 v1.47 M415.97,286.2 v2.08 M418.27,286.2 v1.68 M420.57,286.2 v2.54 M427.32,286.2 v1.51 M430.53,286.2 v2.52 M432.93,286.2 v2.97 M436.48,286.2 v1.64 M442.77,286.2 v2.17 M446.36,286.2 v2.86 M448.79,286.2 v2.06 M451.71,286.2 v1.88 M454.18,286.2 v1.84 M459.62,286.2 v2.31 M462.44,286.2 v1.24 M465.1,286.2 v2.45 M468.02,286.2 v1.33 M478.46,286.2 v1.41 M481.03,286.2 v1.28 M484.32,286.2 v1.74 M486.7,286.2 v2.04 M493.53,286.2 v1.72 M495.94,286.2 v3.04 M498.93,286.2 v2.6 M501.26,286.2 v1.32 M504.42,286.2 v2.05 M510.24,286.2 v2.47 M513.56,286.2 v1.37 M516.96,286.2 v1.33 M520.37,286.2 v2.11 M526.02,286.2 v3.05 M528.59,286.2 v1.46 M531.53,286.2 v1.68 M533.88,286.2 v1.52 M536.15,286.2 v1.6 M544.68,286.2 v1.78" stroke="#fff" stroke-width="0.55" stroke-opacity="0.8" fill="none"/>
<rect x="329.3" y="217.8" width="217.5" height="155.7" fill="none" stroke="#555" stroke-width="1.4"/>
<line x1="324.8" y1="372" x2="329.3" y2="372" stroke="#3a3a3a" stroke-width="1.2"/>
<line x1="324.8" y1="356.58" x2="329.3" y2="356.58" stroke="#3a3a3a" stroke-width="1.2"/>
<line x1="324.8" y1="341.16" x2="329.3" y2="341.16" stroke="#3a3a3a" stroke-width="1.2"/>
<line x1="324.8" y1="325.74" x2="329.3" y2="325.74" stroke="#3a3a3a" stroke-width="1.2"/>
<line x1="324.8" y1="310.32" x2="329.3" y2="310.32" stroke="#3a3a3a" stroke-width="1.2"/>
<line x1="324.8" y1="294.9" x2="329.3" y2="294.9" stroke="#3a3a3a" stroke-width="1.2"/>
<line x1="324.8" y1="279.48" x2="329.3" y2="279.48" stroke="#3a3a3a" stroke-width="1.2"/>
<line x1="324.8" y1="264.06" x2="329.3" y2="264.06" stroke="#3a3a3a" stroke-width="1.2"/>
<line x1="324.8" y1="248.64" x2="329.3" y2="248.64" stroke="#3a3a3a" stroke-width="1.2"/>
<line x1="324.8" y1="233.22" x2="329.3" y2="233.22" stroke="#3a3a3a" stroke-width="1.2"/>
<line x1="324.8" y1="217.8" x2="329.3" y2="217.8" stroke="#3a3a3a" stroke-width="1.2"/>
<line x1="326.8" y1="364.29" x2="329.3" y2="364.29" stroke="#3a3a3a" stroke-width="1.2"/>
<line x1="326.8" y1="348.87" x2="329.3" y2="348.87" stroke="#3a3a3a" stroke-width="1.2"/>
<line x1="326.8" y1="333.45" x2="329.3" y2="333.45" stroke="#3a3a3a" stroke-width="1.2"/>
<line x1="326.8" y1="318.03" x2="329.3" y2="318.03" stroke="#3a3a3a" stroke-width="1.2"/>
<line x1="326.8" y1="302.61" x2="329.3" y2="302.61" stroke="#3a3a3a" stroke-width="1.2"/>
<line x1="326.8" y1="287.19" x2="329.3" y2="287.19" stroke="#3a3a3a" stroke-width="1.2"/>
<line x1="326.8" y1="271.77" x2="329.3" y2="271.77" stroke="#3a3a3a" stroke-width="1.2"/>
<line x1="326.8" y1="256.35" x2="329.3" y2="256.35" stroke="#3a3a3a" stroke-width="1.2"/>
<line x1="326.8" y1="240.93" x2="329.3" y2="240.93" stroke="#3a3a3a" stroke-width="1.2"/>
<line x1="326.8" y1="225.51" x2="329.3" y2="225.51" stroke="#3a3a3a" stroke-width="1.2"/>
<line x1="329.3" y1="373.5" x2="329.3" y2="378" stroke="#3a3a3a" stroke-width="1.2"/>
<line x1="394.9" y1="373.5" x2="394.9" y2="378" stroke="#3a3a3a" stroke-width="1.2"/>
<line x1="460.5" y1="373.5" x2="460.5" y2="378" stroke="#3a3a3a" stroke-width="1.2"/>
<line x1="526.1" y1="373.5" x2="526.1" y2="378" stroke="#3a3a3a" stroke-width="1.2"/>
<line x1="362.1" y1="373.5" x2="362.1" y2="376" stroke="#3a3a3a" stroke-width="1.2"/>
<line x1="427.7" y1="373.5" x2="427.7" y2="376" stroke="#3a3a3a" stroke-width="1.2"/>
<line x1="493.3" y1="373.5" x2="493.3" y2="376" stroke="#3a3a3a" stroke-width="1.2"/>
<text x="322.5" y="374.79" font-family='"Liberation Sans", sans-serif' font-size="8.9" font-weight="bold" text-anchor="end" fill="#111" stroke="#111" stroke-width="0.25" >0</text>
<text x="322.5" y="359.37" font-family='"Liberation Sans", sans-serif' font-size="8.9" font-weight="bold" text-anchor="end" fill="#111" stroke="#111" stroke-width="0.25" >100</text>
<text x="322.5" y="343.95" font-family='"Liberation Sans", sans-serif' font-size="8.9" font-weight="bold" text-anchor="end" fill="#111" stroke="#111" stroke-width="0.25" >200</text>
<text x="322.5" y="328.53" font-family='"Liberation Sans", sans-serif' font-size="8.9" font-weight="bold" text-anchor="end" fill="#111" stroke="#111" stroke-width="0.25" >300</text>
<text x="322.5" y="313.11" font-family='"Liberation Sans", sans-serif' font-size="8.9" font-weight="bold" text-anchor="end" fill="#111" stroke="#111" stroke-width="0.25" >400</text>
<text x="322.5" y="297.69" font-family='"Liberation Sans", sans-serif' font-size="8.9" font-weight="bold" text-anchor="end" fill="#111" stroke="#111" stroke-width="0.25" >500</text>
<text x="322.5" y="282.27" font-family='"Liberation Sans", sans-serif' font-size="8.9" font-weight="bold" text-anchor="end" fill="#111" stroke="#111" stroke-width="0.25" >600</text>
<text x="322.5" y="266.85" font-family='"Liberation Sans", sans-serif' font-size="8.9" font-weight="bold" text-anchor="end" fill="#111" stroke="#111" stroke-width="0.25" >700</text>
<text x="322.5" y="251.43" font-family='"Liberation Sans", sans-serif' font-size="8.9" font-weight="bold" text-anchor="end" fill="#111" stroke="#111" stroke-width="0.25" >800</text>
<text x="322.5" y="236.01" font-family='"Liberation Sans", sans-serif' font-size="8.9" font-weight="bold" text-anchor="end" fill="#111" stroke="#111" stroke-width="0.25" >900</text>
<text x="322.5" y="220.59" font-family='"Liberation Sans", sans-serif' font-size="8.9" font-weight="bold" text-anchor="end" fill="#111" stroke="#111" stroke-width="0.25" >1000</text>
<text x="329.3" y="387.59" font-family='"Liberation Sans", sans-serif' font-size="8.9" font-weight="bold" text-anchor="middle" fill="#111" stroke="#111" stroke-width="0.25" >0</text>
<text x="394.9" y="387.59" font-family='"Liberation Sans", sans-serif' font-size="8.9" font-weight="bold" text-anchor="middle" fill="#111" stroke="#111" stroke-width="0.25" >500</text>
<text x="460.5" y="387.59" font-family='"Liberation Sans", sans-serif' font-size="8.9" font-weight="bold" text-anchor="middle" fill="#111" stroke="#111" stroke-width="0.25" >1000</text>
<text x="526.1" y="387.59" font-family='"Liberation Sans", sans-serif' font-size="8.9" font-weight="bold" text-anchor="middle" fill="#111" stroke="#111" stroke-width="0.25" >1500</text>
<text x="441.4" y="399.74" font-family='"Liberation Sans", sans-serif' font-size="9.9" font-weight="bold" text-anchor="middle" fill="#111" stroke="#111" stroke-width="0.25" >Cycle numbers</text>
<text transform="translate(304.1,291.8) rotate(-90)" font-family='"Liberation Sans", sans-serif' font-size="10" font-weight="bold" text-anchor="middle" fill="#111"><tspan font-weight="normal">&#916;</tspan> R/R<tspan font-size="6" dy="2">0</tspan><tspan dy="-2">(%)</tspan></text>
<text x="292.3" y="201.0" font-family='"Liberation Serif", serif' font-size="15.2" fill="#1c2a55">d</text>
<rect x="368.1" y="220.8" width="72.3" height="51.8" fill="#fff"/>
<path d="M368.5,271.5 L371.45,231.95 L375.62,271.5 L379.5,231.95 L383.7,271.5 L387.6,231.95 L391.85,271.5 L395.8,231.95 L400,271.5 L403.9,231.95 L407.95,271.5 L411.7,231.95 L415.75,271.5 L419.5,231.95 L423.65,271.5 L427.5,231.95 L431.75,271.5 L435.7,231.95 L439.9,271.5" fill="none" stroke="#2a2a2a" stroke-width="0.95" stroke-linejoin="round" stroke-linejoin="miter"/>
<rect x="368.1" y="220.8" width="72.3" height="51.8" fill="none" stroke="#3a3a3a" stroke-width="1.0"/>
<line x1="366.1" y1="271.5" x2="368.1" y2="271.5" stroke="#333" stroke-width="0.8"/>
<text x="366.1" y="273.4" font-family='"Liberation Sans", sans-serif' font-size="5.3" font-weight="bold" text-anchor="end" fill="#222" stroke="#222" stroke-width="0.25" >0</text>
<line x1="366.1" y1="260.71" x2="368.1" y2="260.71" stroke="#333" stroke-width="0.8"/>
<text x="366.1" y="262.61" font-family='"Liberation Sans", sans-serif' font-size="5.3" font-weight="bold" text-anchor="end" fill="#222" stroke="#222" stroke-width="0.25" >150</text>
<line x1="366.1" y1="249.93" x2="368.1" y2="249.93" stroke="#333" stroke-width="0.8"/>
<text x="366.1" y="251.83" font-family='"Liberation Sans", sans-serif' font-size="5.3" font-weight="bold" text-anchor="end" fill="#222" stroke="#222" stroke-width="0.25" >300</text>
<line x1="366.1" y1="239.14" x2="368.1" y2="239.14" stroke="#333" stroke-width="0.8"/>
<text x="366.1" y="241.04" font-family='"Liberation Sans", sans-serif' font-size="5.3" font-weight="bold" text-anchor="end" fill="#222" stroke="#222" stroke-width="0.25" >450</text>
<line x1="366.1" y1="228.36" x2="368.1" y2="228.36" stroke="#333" stroke-width="0.8"/>
<text x="366.1" y="230.26" font-family='"Liberation Sans", sans-serif' font-size="5.3" font-weight="bold" text-anchor="end" fill="#222" stroke="#222" stroke-width="0.25" >600</text>
<line x1="366.9" y1="266.11" x2="368.1" y2="266.11" stroke="#333" stroke-width="0.7"/>
<line x1="366.9" y1="255.32" x2="368.1" y2="255.32" stroke="#333" stroke-width="0.7"/>
<line x1="366.9" y1="244.54" x2="368.1" y2="244.54" stroke="#333" stroke-width="0.7"/>
<line x1="366.9" y1="233.75" x2="368.1" y2="233.75" stroke="#333" stroke-width="0.7"/>
<line x1="368.2" y1="272.6" x2="368.2" y2="274.2" stroke="#333" stroke-width="0.8"/>
<text x="368.2" y="279.2" font-family='"Liberation Sans", sans-serif' font-size="5.3" font-weight="bold" text-anchor="middle" fill="#222" stroke="#222" stroke-width="0.25" >1000</text>
<line x1="384.06" y1="272.6" x2="384.06" y2="274.2" stroke="#333" stroke-width="0.8"/>
<text x="384.06" y="279.2" font-family='"Liberation Sans", sans-serif' font-size="5.3" font-weight="bold" text-anchor="middle" fill="#222" stroke="#222" stroke-width="0.25" >1002</text>
<line x1="399.92" y1="272.6" x2="399.92" y2="274.2" stroke="#333" stroke-width="0.8"/>
<text x="399.92" y="279.2" font-family='"Liberation Sans", sans-serif' font-size="5.3" font-weight="bold" text-anchor="middle" fill="#222" stroke="#222" stroke-width="0.25" >1004</text>
<line x1="415.78" y1="272.6" x2="415.78" y2="274.2" stroke="#333" stroke-width="0.8"/>
<text x="415.78" y="279.2" font-family='"Liberation Sans", sans-serif' font-size="5.3" font-weight="bold" text-anchor="middle" fill="#222" stroke="#222" stroke-width="0.25" >1006</text>
<line x1="431.64" y1="272.6" x2="431.64" y2="274.2" stroke="#333" stroke-width="0.8"/>
<text x="431.64" y="279.2" font-family='"Liberation Sans", sans-serif' font-size="5.3" font-weight="bold" text-anchor="middle" fill="#222" stroke="#222" stroke-width="0.25" >1008</text>
<text x="401.7" y="284.27" font-family='"Liberation Sans", sans-serif' font-size="5.5" font-weight="bold" text-anchor="middle" fill="#222" stroke="#222" stroke-width="0.25" >Cycle numbers</text>
<text transform="translate(357.0,246.8) rotate(-90)" font-family='"Liberation Sans", sans-serif' font-size="6.3" text-anchor="middle" fill="#333"><tspan>&#916;</tspan> R/R<tspan font-size="5" dy="1">0</tspan><tspan dy="-1">(%)</tspan></text>
<line x1="369.8" y1="225.6" x2="375.3" y2="225.6" stroke="#222" stroke-width="1.0"/>
<text x="375.6" y="227.54" font-family='"Liberation Sans", sans-serif' font-size="5.7" font-weight="bold" text-anchor="start" fill="#222" stroke="#222" stroke-width="0.25" >100%</text>
<line x1="462.5" y1="282.2" x2="447.18" y2="273.51" stroke="#ee1c1c" stroke-width="1.5"/>
<path d="M442.4,270.8 L449,271.32 L446.24,276.2 Z" fill="#ee1c1c"/>
<rect x="461.5" y="283" width="3" height="3.5" fill="#aaa" stroke="#e83a3a" stroke-width="0.8"/>
</svg></body></html>
